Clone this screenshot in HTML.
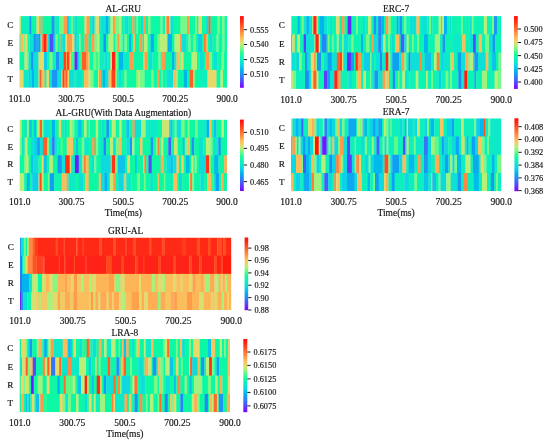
<!DOCTYPE html>
<html><head><meta charset="utf-8"><title>Heatmaps</title>
<style>
html,body{margin:0;padding:0;background:#fff}
svg{display:block}
text{font-family:"Liberation Serif","DejaVu Serif",serif;fill:#111;stroke:#111;stroke-width:0.15px}
.t{font-size:9.4px}
.k{font-size:9.5px}
.r{font-size:9.2px}
.c{font-size:8.3px}
</style></head><body>
<svg width="550" height="445" viewBox="0 0 550 445">
<defs><linearGradient id="rb" x1="0" y1="1" x2="0" y2="0">
<stop offset="0%" stop-color="#8000ff"/>
<stop offset="5%" stop-color="#6828ff"/>
<stop offset="10%" stop-color="#4e4ffc"/>
<stop offset="15%" stop-color="#3474f8"/>
<stop offset="20%" stop-color="#1a96f3"/>
<stop offset="25%" stop-color="#04b4ee"/>
<stop offset="30%" stop-color="#0acdeb"/>
<stop offset="35%" stop-color="#0ae1d7"/>
<stop offset="40%" stop-color="#0af0be"/>
<stop offset="45%" stop-color="#0ff8a5"/>
<stop offset="50%" stop-color="#32fc8c"/>
<stop offset="55%" stop-color="#78f884"/>
<stop offset="60%" stop-color="#b9ee78"/>
<stop offset="65%" stop-color="#e8d769"/>
<stop offset="70%" stop-color="#fdbc5c"/>
<stop offset="75%" stop-color="#ff9b4b"/>
<stop offset="80%" stop-color="#ff7d37"/>
<stop offset="85%" stop-color="#ff5f28"/>
<stop offset="90%" stop-color="#ff411c"/>
<stop offset="95%" stop-color="#ff2312"/>
<stop offset="100%" stop-color="#ff0a0a"/>
</linearGradient>
<filter id="bl" x="-2%" y="-2%" width="104%" height="104%"><feGaussianBlur stdDeviation="0.45 0.25"/></filter>
<clipPath id="cP1"><rect x="19.5" y="16.1" width="207.60" height="71.69999999999999"/></clipPath>
<clipPath id="cP2"><rect x="291" y="16.1" width="210.20" height="72.80000000000001"/></clipPath>
<clipPath id="cP3"><rect x="19.7" y="119.6" width="207.30" height="71.4"/></clipPath>
<clipPath id="cP4"><rect x="291" y="118.3" width="210.20" height="72.89999999999999"/></clipPath>
<clipPath id="cP5"><rect x="20" y="237.5" width="211.20" height="72.69999999999999"/></clipPath>
<clipPath id="cP6"><rect x="19.7" y="339" width="210.30" height="73.19999999999999"/></clipPath>
</defs>
<rect width="550" height="445" fill="#fff"/>
<g id="P1">
<text class="t" x="123.3" y="12.4" text-anchor="middle">AL-GRU</text>
<g clip-path="url(#cP1)"><g filter="url(#bl)">
<rect x="16.50" y="16.10" width="4.80" height="18.92" fill="#b9ee78"/>
<rect x="21.00" y="16.10" width="8.55" height="18.92" fill="#0af0be"/>
<rect x="29.25" y="16.10" width="2.55" height="18.92" fill="#1a96f3"/>
<rect x="31.50" y="16.10" width="5.30" height="18.92" fill="#0ff8a5"/>
<rect x="36.50" y="16.10" width="3.05" height="18.92" fill="#e8d769"/>
<rect x="39.25" y="16.10" width="1.55" height="18.92" fill="#0ff8a5"/>
<rect x="40.50" y="16.10" width="2.30" height="18.92" fill="#ff9b4b"/>
<rect x="42.50" y="16.10" width="9.30" height="18.92" fill="#0ff8a5"/>
<rect x="51.50" y="16.10" width="3.30" height="18.92" fill="#1a96f3"/>
<rect x="54.50" y="16.10" width="4.80" height="18.92" fill="#0af0be"/>
<rect x="59.00" y="16.10" width="4.80" height="18.92" fill="#78f884"/>
<rect x="63.50" y="16.10" width="3.80" height="18.92" fill="#ff9b4b"/>
<rect x="67.00" y="16.10" width="2.80" height="18.92" fill="#0acdeb"/>
<rect x="69.50" y="16.10" width="2.30" height="18.92" fill="#0ff8a5"/>
<rect x="71.50" y="16.10" width="1.30" height="18.92" fill="#b9ee78"/>
<rect x="72.50" y="16.10" width="2.30" height="18.92" fill="#0ff8a5"/>
<rect x="74.50" y="16.10" width="2.80" height="18.92" fill="#0ae1d7"/>
<rect x="77.00" y="16.10" width="7.80" height="18.92" fill="#0ff8a5"/>
<rect x="84.50" y="16.10" width="2.30" height="18.92" fill="#e8d769"/>
<rect x="86.50" y="16.10" width="3.80" height="18.92" fill="#ff9b4b"/>
<rect x="90.00" y="16.10" width="2.55" height="18.92" fill="#0af0be"/>
<rect x="92.25" y="16.10" width="2.55" height="18.92" fill="#0acdeb"/>
<rect x="94.50" y="16.10" width="2.05" height="18.92" fill="#78f884"/>
<rect x="96.25" y="16.10" width="3.05" height="18.92" fill="#e8d769"/>
<rect x="99.00" y="16.10" width="1.80" height="18.92" fill="#0ff8a5"/>
<rect x="100.50" y="16.10" width="5.80" height="18.92" fill="#0ae1d7"/>
<rect x="106.00" y="16.10" width="2.80" height="18.92" fill="#04b4ee"/>
<rect x="108.50" y="16.10" width="2.30" height="18.92" fill="#0ff8a5"/>
<rect x="110.50" y="16.10" width="2.80" height="18.92" fill="#b9ee78"/>
<rect x="113.00" y="16.10" width="2.80" height="18.92" fill="#ff9b4b"/>
<rect x="115.50" y="16.10" width="3.80" height="18.92" fill="#78f884"/>
<rect x="119.00" y="16.10" width="2.80" height="18.92" fill="#b9ee78"/>
<rect x="121.50" y="16.10" width="3.30" height="18.92" fill="#0ff8a5"/>
<rect x="124.50" y="16.10" width="4.30" height="18.92" fill="#0ae1d7"/>
<rect x="128.50" y="16.10" width="4.05" height="18.92" fill="#0ff8a5"/>
<rect x="132.25" y="16.10" width="2.55" height="18.92" fill="#ff9b4b"/>
<rect x="134.50" y="16.10" width="2.30" height="18.92" fill="#0ff8a5"/>
<rect x="136.50" y="16.10" width="1.80" height="18.92" fill="#78f884"/>
<rect x="138.00" y="16.10" width="3.30" height="18.92" fill="#0ff8a5"/>
<rect x="141.00" y="16.10" width="2.80" height="18.92" fill="#0ae1d7"/>
<rect x="143.50" y="16.10" width="2.80" height="18.92" fill="#ff9b4b"/>
<rect x="146.00" y="16.10" width="2.30" height="18.92" fill="#0ff8a5"/>
<rect x="148.00" y="16.10" width="2.80" height="18.92" fill="#78f884"/>
<rect x="150.50" y="16.10" width="10.30" height="18.92" fill="#0ff8a5"/>
<rect x="160.50" y="16.10" width="2.30" height="18.92" fill="#78f884"/>
<rect x="162.50" y="16.10" width="2.80" height="18.92" fill="#0ff8a5"/>
<rect x="165.00" y="16.10" width="1.80" height="18.92" fill="#e8d769"/>
<rect x="166.50" y="16.10" width="2.80" height="18.92" fill="#ff7d37"/>
<rect x="169.00" y="16.10" width="1.80" height="18.92" fill="#78f884"/>
<rect x="170.50" y="16.10" width="2.80" height="18.92" fill="#0ae1d7"/>
<rect x="173.00" y="16.10" width="7.80" height="18.92" fill="#0ff8a5"/>
<rect x="180.50" y="16.10" width="6.80" height="18.92" fill="#78f884"/>
<rect x="187.00" y="16.10" width="2.80" height="18.92" fill="#ff9b4b"/>
<rect x="189.50" y="16.10" width="5.80" height="18.92" fill="#0ff8a5"/>
<rect x="195.00" y="16.10" width="2.30" height="18.92" fill="#78f884"/>
<rect x="197.00" y="16.10" width="1.80" height="18.92" fill="#0ff8a5"/>
<rect x="198.50" y="16.10" width="3.80" height="18.92" fill="#e8d769"/>
<rect x="202.00" y="16.10" width="3.80" height="18.92" fill="#0ff8a5"/>
<rect x="205.50" y="16.10" width="3.30" height="18.92" fill="#0ae1d7"/>
<rect x="208.50" y="16.10" width="2.30" height="18.92" fill="#ff5f28"/>
<rect x="210.50" y="16.10" width="7.30" height="18.92" fill="#0ff8a5"/>
<rect x="217.50" y="16.10" width="2.30" height="18.92" fill="#78f884"/>
<rect x="219.50" y="16.10" width="2.80" height="18.92" fill="#0ff8a5"/>
<rect x="222.00" y="16.10" width="2.80" height="18.92" fill="#78f884"/>
<rect x="224.50" y="16.10" width="5.90" height="18.92" fill="#0ff8a5"/>
<rect x="16.50" y="34.02" width="4.30" height="18.92" fill="#0ff8a5"/>
<rect x="20.50" y="34.02" width="3.30" height="18.92" fill="#fdbc5c"/>
<rect x="23.50" y="34.02" width="1.80" height="18.92" fill="#78f884"/>
<rect x="25.00" y="34.02" width="2.80" height="18.92" fill="#e8d769"/>
<rect x="27.50" y="34.02" width="2.30" height="18.92" fill="#0ff8a5"/>
<rect x="29.50" y="34.02" width="4.30" height="18.92" fill="#0ae1d7"/>
<rect x="33.50" y="34.02" width="3.30" height="18.92" fill="#1a96f3"/>
<rect x="36.50" y="34.02" width="2.30" height="18.92" fill="#04b4ee"/>
<rect x="38.50" y="34.02" width="2.30" height="18.92" fill="#1a96f3"/>
<rect x="40.50" y="34.02" width="1.80" height="18.92" fill="#78f884"/>
<rect x="42.00" y="34.02" width="1.80" height="18.92" fill="#ff7d37"/>
<rect x="43.50" y="34.02" width="3.30" height="18.92" fill="#ff2312"/>
<rect x="46.50" y="34.02" width="1.30" height="18.92" fill="#ff9b4b"/>
<rect x="47.50" y="34.02" width="2.30" height="18.92" fill="#0ae1d7"/>
<rect x="49.50" y="34.02" width="4.30" height="18.92" fill="#4e4ffc"/>
<rect x="53.50" y="34.02" width="2.30" height="18.92" fill="#0acdeb"/>
<rect x="55.50" y="34.02" width="2.30" height="18.92" fill="#78f884"/>
<rect x="57.50" y="34.02" width="1.80" height="18.92" fill="#0ff8a5"/>
<rect x="59.00" y="34.02" width="1.80" height="18.92" fill="#ff9b4b"/>
<rect x="60.50" y="34.02" width="2.30" height="18.92" fill="#0af0be"/>
<rect x="62.50" y="34.02" width="3.30" height="18.92" fill="#0ae1d7"/>
<rect x="65.50" y="34.02" width="1.80" height="18.92" fill="#e8d769"/>
<rect x="67.00" y="34.02" width="5.30" height="18.92" fill="#ff9b4b"/>
<rect x="72.00" y="34.02" width="2.80" height="18.92" fill="#e8d769"/>
<rect x="74.50" y="34.02" width="2.30" height="18.92" fill="#0acdeb"/>
<rect x="76.50" y="34.02" width="2.80" height="18.92" fill="#0af0be"/>
<rect x="79.00" y="34.02" width="1.80" height="18.92" fill="#b9ee78"/>
<rect x="80.50" y="34.02" width="4.30" height="18.92" fill="#0ff8a5"/>
<rect x="84.50" y="34.02" width="4.30" height="18.92" fill="#ff9b4b"/>
<rect x="88.50" y="34.02" width="3.30" height="18.92" fill="#0ff8a5"/>
<rect x="91.50" y="34.02" width="3.30" height="18.92" fill="#ff9b4b"/>
<rect x="94.50" y="34.02" width="2.80" height="18.92" fill="#78f884"/>
<rect x="97.00" y="34.02" width="2.80" height="18.92" fill="#b9ee78"/>
<rect x="99.50" y="34.02" width="4.05" height="18.92" fill="#0af0be"/>
<rect x="103.25" y="34.02" width="3.05" height="18.92" fill="#1a96f3"/>
<rect x="106.00" y="34.02" width="2.80" height="18.92" fill="#0ff8a5"/>
<rect x="108.50" y="34.02" width="5.30" height="18.92" fill="#b9ee78"/>
<rect x="113.50" y="34.02" width="2.30" height="18.92" fill="#0ff8a5"/>
<rect x="115.50" y="34.02" width="2.05" height="18.92" fill="#78f884"/>
<rect x="117.25" y="34.02" width="2.55" height="18.92" fill="#ff9b4b"/>
<rect x="119.50" y="34.02" width="3.30" height="18.92" fill="#78f884"/>
<rect x="122.50" y="34.02" width="2.30" height="18.92" fill="#0af0be"/>
<rect x="124.50" y="34.02" width="2.80" height="18.92" fill="#78f884"/>
<rect x="127.00" y="34.02" width="2.30" height="18.92" fill="#0ff8a5"/>
<rect x="129.00" y="34.02" width="2.80" height="18.92" fill="#04b4ee"/>
<rect x="131.50" y="34.02" width="1.80" height="18.92" fill="#0ff8a5"/>
<rect x="133.00" y="34.02" width="2.30" height="18.92" fill="#fdbc5c"/>
<rect x="135.00" y="34.02" width="4.80" height="18.92" fill="#0ff8a5"/>
<rect x="139.50" y="34.02" width="3.30" height="18.92" fill="#ff9b4b"/>
<rect x="142.50" y="34.02" width="1.80" height="18.92" fill="#0ff8a5"/>
<rect x="144.00" y="34.02" width="3.80" height="18.92" fill="#b9ee78"/>
<rect x="147.50" y="34.02" width="3.30" height="18.92" fill="#0ff8a5"/>
<rect x="150.50" y="34.02" width="3.80" height="18.92" fill="#04b4ee"/>
<rect x="154.00" y="34.02" width="3.80" height="18.92" fill="#0ff8a5"/>
<rect x="157.50" y="34.02" width="2.80" height="18.92" fill="#78f884"/>
<rect x="160.00" y="34.02" width="7.30" height="18.92" fill="#b9ee78"/>
<rect x="167.00" y="34.02" width="1.30" height="18.92" fill="#0ff8a5"/>
<rect x="168.00" y="34.02" width="4.30" height="18.92" fill="#04b4ee"/>
<rect x="172.00" y="34.02" width="2.80" height="18.92" fill="#0ff8a5"/>
<rect x="174.50" y="34.02" width="5.80" height="18.92" fill="#b9ee78"/>
<rect x="180.00" y="34.02" width="1.80" height="18.92" fill="#ff9b4b"/>
<rect x="181.50" y="34.02" width="5.30" height="18.92" fill="#0ae1d7"/>
<rect x="186.50" y="34.02" width="2.30" height="18.92" fill="#0ff8a5"/>
<rect x="188.50" y="34.02" width="2.30" height="18.92" fill="#78f884"/>
<rect x="190.50" y="34.02" width="3.30" height="18.92" fill="#0ff8a5"/>
<rect x="193.50" y="34.02" width="2.30" height="18.92" fill="#78f884"/>
<rect x="195.50" y="34.02" width="2.80" height="18.92" fill="#0ff8a5"/>
<rect x="198.00" y="34.02" width="4.30" height="18.92" fill="#0acdeb"/>
<rect x="202.00" y="34.02" width="1.80" height="18.92" fill="#0ff8a5"/>
<rect x="203.50" y="34.02" width="3.30" height="18.92" fill="#ff7d37"/>
<rect x="206.50" y="34.02" width="1.30" height="18.92" fill="#e8d769"/>
<rect x="207.50" y="34.02" width="2.80" height="18.92" fill="#0ff8a5"/>
<rect x="210.00" y="34.02" width="2.80" height="18.92" fill="#0ae1d7"/>
<rect x="212.50" y="34.02" width="4.30" height="18.92" fill="#0ff8a5"/>
<rect x="216.50" y="34.02" width="2.30" height="18.92" fill="#78f884"/>
<rect x="218.50" y="34.02" width="4.30" height="18.92" fill="#0ff8a5"/>
<rect x="222.50" y="34.02" width="2.30" height="18.92" fill="#78f884"/>
<rect x="224.50" y="34.02" width="5.90" height="18.92" fill="#0ff8a5"/>
<rect x="16.50" y="51.95" width="8.30" height="18.92" fill="#0ff8a5"/>
<rect x="24.50" y="51.95" width="2.30" height="18.92" fill="#e8d769"/>
<rect x="26.50" y="51.95" width="2.30" height="18.92" fill="#78f884"/>
<rect x="28.50" y="51.95" width="2.80" height="18.92" fill="#0ae1d7"/>
<rect x="31.00" y="51.95" width="2.80" height="18.92" fill="#1a96f3"/>
<rect x="33.50" y="51.95" width="5.30" height="18.92" fill="#0ae1d7"/>
<rect x="38.50" y="51.95" width="5.80" height="18.92" fill="#e8d769"/>
<rect x="44.00" y="51.95" width="3.80" height="18.92" fill="#0acdeb"/>
<rect x="47.50" y="51.95" width="2.30" height="18.92" fill="#0ff8a5"/>
<rect x="49.50" y="51.95" width="3.30" height="18.92" fill="#78f884"/>
<rect x="52.50" y="51.95" width="3.80" height="18.92" fill="#0af0be"/>
<rect x="56.00" y="51.95" width="3.30" height="18.92" fill="#1a96f3"/>
<rect x="59.00" y="51.95" width="4.80" height="18.92" fill="#0ae1d7"/>
<rect x="63.50" y="51.95" width="2.80" height="18.92" fill="#ff411c"/>
<rect x="66.00" y="51.95" width="1.30" height="18.92" fill="#ff9b4b"/>
<rect x="67.00" y="51.95" width="2.80" height="18.92" fill="#ff411c"/>
<rect x="69.50" y="51.95" width="1.80" height="18.92" fill="#e8d769"/>
<rect x="71.00" y="51.95" width="3.80" height="18.92" fill="#32fc8c"/>
<rect x="74.50" y="51.95" width="3.30" height="18.92" fill="#6828ff"/>
<rect x="77.50" y="51.95" width="2.30" height="18.92" fill="#0acdeb"/>
<rect x="79.50" y="51.95" width="2.80" height="18.92" fill="#32fc8c"/>
<rect x="82.00" y="51.95" width="4.30" height="18.92" fill="#ff5f28"/>
<rect x="86.00" y="51.95" width="2.80" height="18.92" fill="#ff9b4b"/>
<rect x="88.50" y="51.95" width="1.30" height="18.92" fill="#e8d769"/>
<rect x="89.50" y="51.95" width="4.30" height="18.92" fill="#0ff8a5"/>
<rect x="93.50" y="51.95" width="2.30" height="18.92" fill="#78f884"/>
<rect x="95.50" y="51.95" width="2.80" height="18.92" fill="#32fc8c"/>
<rect x="98.00" y="51.95" width="1.80" height="18.92" fill="#78f884"/>
<rect x="99.50" y="51.95" width="5.30" height="18.92" fill="#0af0be"/>
<rect x="104.50" y="51.95" width="3.30" height="18.92" fill="#0ae1d7"/>
<rect x="107.50" y="51.95" width="3.30" height="18.92" fill="#0af0be"/>
<rect x="110.50" y="51.95" width="1.80" height="18.92" fill="#e8d769"/>
<rect x="112.00" y="51.95" width="3.80" height="18.92" fill="#ff2312"/>
<rect x="115.50" y="51.95" width="2.30" height="18.92" fill="#78f884"/>
<rect x="117.50" y="51.95" width="1.80" height="18.92" fill="#0ff8a5"/>
<rect x="119.00" y="51.95" width="4.30" height="18.92" fill="#04b4ee"/>
<rect x="123.00" y="51.95" width="6.30" height="18.92" fill="#0aeac8"/>
<rect x="129.00" y="51.95" width="4.80" height="18.92" fill="#ff9b4b"/>
<rect x="133.50" y="51.95" width="10.30" height="18.92" fill="#0ff8a5"/>
<rect x="143.50" y="51.95" width="1.30" height="18.92" fill="#e8d769"/>
<rect x="144.50" y="51.95" width="3.30" height="18.92" fill="#ff9b4b"/>
<rect x="147.50" y="51.95" width="1.80" height="18.92" fill="#0ff8a5"/>
<rect x="149.00" y="51.95" width="3.80" height="18.92" fill="#0ae1d7"/>
<rect x="152.50" y="51.95" width="6.30" height="18.92" fill="#0ff8a5"/>
<rect x="158.50" y="51.95" width="2.30" height="18.92" fill="#78f884"/>
<rect x="160.50" y="51.95" width="1.30" height="18.92" fill="#0ff8a5"/>
<rect x="161.50" y="51.95" width="3.80" height="18.92" fill="#ff9b4b"/>
<rect x="165.00" y="51.95" width="7.30" height="18.92" fill="#0ff8a5"/>
<rect x="172.00" y="51.95" width="2.80" height="18.92" fill="#04b4ee"/>
<rect x="174.50" y="51.95" width="2.30" height="18.92" fill="#0ff8a5"/>
<rect x="176.50" y="51.95" width="2.80" height="18.92" fill="#fdbc5c"/>
<rect x="179.00" y="51.95" width="2.80" height="18.92" fill="#78f884"/>
<rect x="181.50" y="51.95" width="2.30" height="18.92" fill="#e8d769"/>
<rect x="183.50" y="51.95" width="8.30" height="18.92" fill="#0ff8a5"/>
<rect x="191.50" y="51.95" width="5.80" height="18.92" fill="#b9ee78"/>
<rect x="197.00" y="51.95" width="2.80" height="18.92" fill="#0ff8a5"/>
<rect x="199.50" y="51.95" width="4.80" height="18.92" fill="#0ae1d7"/>
<rect x="204.00" y="51.95" width="1.80" height="18.92" fill="#0ff8a5"/>
<rect x="205.50" y="51.95" width="4.30" height="18.92" fill="#ff9b4b"/>
<rect x="209.50" y="51.95" width="2.80" height="18.92" fill="#78f884"/>
<rect x="212.00" y="51.95" width="2.30" height="18.92" fill="#0ff8a5"/>
<rect x="214.00" y="51.95" width="3.80" height="18.92" fill="#0ae1d7"/>
<rect x="217.50" y="51.95" width="4.30" height="18.92" fill="#0ff8a5"/>
<rect x="221.50" y="51.95" width="2.80" height="18.92" fill="#78f884"/>
<rect x="224.00" y="51.95" width="6.40" height="18.92" fill="#0ff8a5"/>
<rect x="16.50" y="69.88" width="7.30" height="17.92" fill="#e8d769"/>
<rect x="23.50" y="69.88" width="5.30" height="17.92" fill="#0aeac8"/>
<rect x="28.50" y="69.88" width="1.80" height="17.92" fill="#0acdeb"/>
<rect x="30.00" y="69.88" width="2.30" height="17.92" fill="#0ae1d7"/>
<rect x="32.00" y="69.88" width="2.30" height="17.92" fill="#04b4ee"/>
<rect x="34.00" y="69.88" width="4.80" height="17.92" fill="#0ae1d7"/>
<rect x="38.50" y="69.88" width="1.30" height="17.92" fill="#e8d769"/>
<rect x="39.50" y="69.88" width="2.30" height="17.92" fill="#ff5f28"/>
<rect x="41.50" y="69.88" width="3.30" height="17.92" fill="#fdbc5c"/>
<rect x="44.50" y="69.88" width="2.30" height="17.92" fill="#0ff8a5"/>
<rect x="46.50" y="69.88" width="2.80" height="17.92" fill="#e8d769"/>
<rect x="49.00" y="69.88" width="3.30" height="17.92" fill="#0ae1d7"/>
<rect x="52.00" y="69.88" width="5.80" height="17.92" fill="#1a96f3"/>
<rect x="57.50" y="69.88" width="4.30" height="17.92" fill="#0ae1d7"/>
<rect x="61.50" y="69.88" width="1.30" height="17.92" fill="#e8d769"/>
<rect x="62.50" y="69.88" width="2.30" height="17.92" fill="#ff411c"/>
<rect x="64.50" y="69.88" width="1.30" height="17.92" fill="#ff9b4b"/>
<rect x="65.50" y="69.88" width="2.30" height="17.92" fill="#ff5f28"/>
<rect x="67.50" y="69.88" width="1.80" height="17.92" fill="#e8d769"/>
<rect x="69.00" y="69.88" width="5.80" height="17.92" fill="#0ae1d7"/>
<rect x="74.50" y="69.88" width="2.80" height="17.92" fill="#0af0be"/>
<rect x="77.00" y="69.88" width="5.30" height="17.92" fill="#0ae1d7"/>
<rect x="82.00" y="69.88" width="2.30" height="17.92" fill="#0ff8a5"/>
<rect x="84.00" y="69.88" width="4.80" height="17.92" fill="#fdbc5c"/>
<rect x="88.50" y="69.88" width="2.30" height="17.92" fill="#b9ee78"/>
<rect x="90.50" y="69.88" width="3.30" height="17.92" fill="#78f884"/>
<rect x="93.50" y="69.88" width="4.80" height="17.92" fill="#0ff8a5"/>
<rect x="98.00" y="69.88" width="1.30" height="17.92" fill="#e8d769"/>
<rect x="99.00" y="69.88" width="2.30" height="17.92" fill="#ff9b4b"/>
<rect x="101.00" y="69.88" width="2.30" height="17.92" fill="#0ae1d7"/>
<rect x="103.00" y="69.88" width="2.80" height="17.92" fill="#04b4ee"/>
<rect x="105.50" y="69.88" width="3.30" height="17.92" fill="#0ae1d7"/>
<rect x="108.50" y="69.88" width="3.30" height="17.92" fill="#fdbc5c"/>
<rect x="111.50" y="69.88" width="4.30" height="17.92" fill="#ff411c"/>
<rect x="115.50" y="69.88" width="1.80" height="17.92" fill="#78f884"/>
<rect x="117.00" y="69.88" width="1.80" height="17.92" fill="#0ff8a5"/>
<rect x="118.50" y="69.88" width="2.80" height="17.92" fill="#0ae1d7"/>
<rect x="121.00" y="69.88" width="3.80" height="17.92" fill="#0ff8a5"/>
<rect x="124.50" y="69.88" width="2.30" height="17.92" fill="#78f884"/>
<rect x="126.50" y="69.88" width="9.80" height="17.92" fill="#0ff8a5"/>
<rect x="136.00" y="69.88" width="2.30" height="17.92" fill="#78f884"/>
<rect x="138.00" y="69.88" width="2.30" height="17.92" fill="#b9ee78"/>
<rect x="140.00" y="69.88" width="4.80" height="17.92" fill="#78f884"/>
<rect x="144.50" y="69.88" width="6.80" height="17.92" fill="#0ff8a5"/>
<rect x="151.00" y="69.88" width="2.80" height="17.92" fill="#78f884"/>
<rect x="153.50" y="69.88" width="4.30" height="17.92" fill="#0ff8a5"/>
<rect x="157.50" y="69.88" width="1.80" height="17.92" fill="#ff9b4b"/>
<rect x="159.00" y="69.88" width="2.80" height="17.92" fill="#0ff8a5"/>
<rect x="161.50" y="69.88" width="1.30" height="17.92" fill="#78f884"/>
<rect x="162.50" y="69.88" width="4.30" height="17.92" fill="#0ff8a5"/>
<rect x="166.50" y="69.88" width="6.80" height="17.92" fill="#0ae1d7"/>
<rect x="173.00" y="69.88" width="3.80" height="17.92" fill="#fdbc5c"/>
<rect x="176.50" y="69.88" width="1.80" height="17.92" fill="#78f884"/>
<rect x="178.00" y="69.88" width="5.80" height="17.92" fill="#0ff8a5"/>
<rect x="183.50" y="69.88" width="4.30" height="17.92" fill="#04b4ee"/>
<rect x="187.50" y="69.88" width="2.30" height="17.92" fill="#0ff8a5"/>
<rect x="189.50" y="69.88" width="3.80" height="17.92" fill="#ff5f28"/>
<rect x="193.00" y="69.88" width="2.30" height="17.92" fill="#78f884"/>
<rect x="195.00" y="69.88" width="5.30" height="17.92" fill="#0ff8a5"/>
<rect x="200.00" y="69.88" width="7.80" height="17.92" fill="#0af0be"/>
<rect x="207.50" y="69.88" width="9.30" height="17.92" fill="#e8d769"/>
<rect x="216.50" y="69.88" width="4.30" height="17.92" fill="#0ff8a5"/>
<rect x="220.50" y="69.88" width="2.80" height="17.92" fill="#b9ee78"/>
<rect x="223.00" y="69.88" width="7.40" height="17.92" fill="#0ff8a5"/>
</g></g>
<text class="r" x="10.2" y="28.3" text-anchor="middle">C</text>
<text class="r" x="10.2" y="46.2" text-anchor="middle">E</text>
<text class="r" x="10.2" y="64.1" text-anchor="middle">R</text>
<text class="r" x="10.2" y="82.0" text-anchor="middle">T</text>
<text class="k" x="19.5" y="101.5" text-anchor="middle">101.0</text>
<text class="k" x="71.4" y="101.5" text-anchor="middle">300.75</text>
<text class="k" x="123.3" y="101.5" text-anchor="middle">500.5</text>
<text class="k" x="175.2" y="101.5" text-anchor="middle">700.25</text>
<text class="k" x="227.1" y="101.5" text-anchor="middle">900.0</text>
<rect x="240" y="16.1" width="3.80" height="71.69999999999999" fill="url(#rb)"/>
<line x1="243.8" x2="247.1" y1="29.7" y2="29.7" stroke="#1a1a1a" stroke-width="1"/>
<text class="c" x="250.0" y="32.6">0.555</text>
<line x1="243.8" x2="247.1" y1="44.5" y2="44.5" stroke="#1a1a1a" stroke-width="1"/>
<text class="c" x="250.0" y="47.4">0.540</text>
<line x1="243.8" x2="247.1" y1="59.6" y2="59.6" stroke="#1a1a1a" stroke-width="1"/>
<text class="c" x="250.0" y="62.5">0.525</text>
<line x1="243.8" x2="247.1" y1="74.4" y2="74.4" stroke="#1a1a1a" stroke-width="1"/>
<text class="c" x="250.0" y="77.3">0.510</text>
</g>
<g id="P2">
<text class="t" x="396.1" y="12.4" text-anchor="middle">ERC-7</text>
<g clip-path="url(#cP2)"><g filter="url(#bl)">
<rect x="288.00" y="16.10" width="4.30" height="19.20" fill="#78f884"/>
<rect x="292.00" y="16.10" width="5.70" height="19.20" fill="#0cf3b4"/>
<rect x="297.40" y="16.10" width="2.60" height="19.20" fill="#04b4ee"/>
<rect x="299.70" y="16.10" width="2.40" height="19.20" fill="#0cf3b4"/>
<rect x="301.80" y="16.10" width="2.20" height="19.20" fill="#78f884"/>
<rect x="303.70" y="16.10" width="2.90" height="19.20" fill="#0ae7cd"/>
<rect x="306.30" y="16.10" width="2.80" height="19.20" fill="#04b4ee"/>
<rect x="308.80" y="16.10" width="3.90" height="19.20" fill="#0ae1d7"/>
<rect x="312.40" y="16.10" width="1.20" height="19.20" fill="#e8d769"/>
<rect x="313.30" y="16.10" width="3.50" height="19.20" fill="#ff2312"/>
<rect x="316.50" y="16.10" width="1.80" height="19.20" fill="#fdbc5c"/>
<rect x="318.00" y="16.10" width="1.60" height="19.20" fill="#0cf3b4"/>
<rect x="319.30" y="16.10" width="5.00" height="19.20" fill="#04b4ee"/>
<rect x="324.00" y="16.10" width="3.60" height="19.20" fill="#0ae1d7"/>
<rect x="327.30" y="16.10" width="2.20" height="19.20" fill="#0cf3b4"/>
<rect x="329.20" y="16.10" width="2.80" height="19.20" fill="#0ae1d7"/>
<rect x="331.70" y="16.10" width="4.80" height="19.20" fill="#0cf3b4"/>
<rect x="336.20" y="16.10" width="3.50" height="19.20" fill="#e8d769"/>
<rect x="339.40" y="16.10" width="2.90" height="19.20" fill="#0cf3b4"/>
<rect x="342.00" y="16.10" width="2.80" height="19.20" fill="#ff9b4b"/>
<rect x="344.50" y="16.10" width="3.40" height="19.20" fill="#0ff8a5"/>
<rect x="347.60" y="16.10" width="4.20" height="19.20" fill="#6828ff"/>
<rect x="351.50" y="16.10" width="4.80" height="19.20" fill="#0cf3b4"/>
<rect x="356.00" y="16.10" width="2.30" height="19.20" fill="#78f884"/>
<rect x="358.00" y="16.10" width="5.30" height="19.20" fill="#0cf3b4"/>
<rect x="363.00" y="16.10" width="2.80" height="19.20" fill="#0ae1d7"/>
<rect x="365.50" y="16.10" width="2.80" height="19.20" fill="#0cf3b4"/>
<rect x="368.00" y="16.10" width="3.50" height="19.20" fill="#b9ee78"/>
<rect x="371.20" y="16.10" width="2.80" height="19.20" fill="#0cf3b4"/>
<rect x="373.70" y="16.10" width="2.60" height="19.20" fill="#1a96f3"/>
<rect x="376.00" y="16.10" width="2.50" height="19.20" fill="#0ae1d7"/>
<rect x="378.20" y="16.10" width="3.50" height="19.20" fill="#2488f5"/>
<rect x="381.40" y="16.10" width="2.90" height="19.20" fill="#04b4ee"/>
<rect x="384.00" y="16.10" width="2.10" height="19.20" fill="#0cf3b4"/>
<rect x="385.80" y="16.10" width="2.90" height="19.20" fill="#ff9b4b"/>
<rect x="388.40" y="16.10" width="2.90" height="19.20" fill="#78f884"/>
<rect x="391.00" y="16.10" width="5.90" height="19.20" fill="#0cf3b4"/>
<rect x="396.60" y="16.10" width="2.20" height="19.20" fill="#04b4ee"/>
<rect x="398.50" y="16.10" width="1.60" height="19.20" fill="#0ae1d7"/>
<rect x="399.80" y="16.10" width="2.50" height="19.20" fill="#1a96f3"/>
<rect x="402.00" y="16.10" width="2.60" height="19.20" fill="#0cf3b4"/>
<rect x="404.30" y="16.10" width="2.20" height="19.20" fill="#78f884"/>
<rect x="406.20" y="16.10" width="3.50" height="19.20" fill="#0cf3b4"/>
<rect x="409.40" y="16.10" width="7.30" height="19.20" fill="#0ae1d7"/>
<rect x="416.40" y="16.10" width="3.20" height="19.20" fill="#fdbc5c"/>
<rect x="419.30" y="16.10" width="3.00" height="19.20" fill="#0cf3b4"/>
<rect x="422.00" y="16.10" width="5.50" height="19.20" fill="#0ae1d7"/>
<rect x="427.20" y="16.10" width="2.10" height="19.20" fill="#0cf3b4"/>
<rect x="429.00" y="16.10" width="2.30" height="19.20" fill="#78f884"/>
<rect x="431.00" y="16.10" width="1.60" height="19.20" fill="#0ae1d7"/>
<rect x="432.30" y="16.10" width="6.60" height="19.20" fill="#0cf3b4"/>
<rect x="438.60" y="16.10" width="2.70" height="19.20" fill="#b9ee78"/>
<rect x="441.00" y="16.10" width="1.50" height="19.20" fill="#0cf3b4"/>
<rect x="442.20" y="16.10" width="2.10" height="19.20" fill="#b9ee78"/>
<rect x="444.00" y="16.10" width="3.30" height="19.20" fill="#04b4ee"/>
<rect x="447.00" y="16.10" width="2.80" height="19.20" fill="#0cf3b4"/>
<rect x="449.50" y="16.10" width="2.20" height="19.20" fill="#0ae1d7"/>
<rect x="451.40" y="16.10" width="9.90" height="19.20" fill="#0cf3b4"/>
<rect x="461.00" y="16.10" width="2.10" height="19.20" fill="#78f884"/>
<rect x="462.80" y="16.10" width="6.70" height="19.20" fill="#0cf3b4"/>
<rect x="469.20" y="16.10" width="2.80" height="19.20" fill="#0ae1d7"/>
<rect x="471.70" y="16.10" width="2.20" height="19.20" fill="#78f884"/>
<rect x="473.60" y="16.10" width="10.50" height="19.20" fill="#0cf3b4"/>
<rect x="483.80" y="16.10" width="3.50" height="19.20" fill="#b9ee78"/>
<rect x="487.00" y="16.10" width="5.30" height="19.20" fill="#0cf3b4"/>
<rect x="492.00" y="16.10" width="2.30" height="19.20" fill="#78f884"/>
<rect x="494.00" y="16.10" width="3.50" height="19.20" fill="#1a96f3"/>
<rect x="497.20" y="16.10" width="7.30" height="19.20" fill="#0cf3b4"/>
<rect x="288.00" y="34.30" width="4.60" height="19.20" fill="#0cf3b4"/>
<rect x="292.30" y="34.30" width="2.80" height="19.20" fill="#e8d769"/>
<rect x="294.80" y="34.30" width="2.90" height="19.20" fill="#0cf3b4"/>
<rect x="297.40" y="34.30" width="2.90" height="19.20" fill="#b9ee78"/>
<rect x="300.00" y="34.30" width="4.00" height="19.20" fill="#0cf3b4"/>
<rect x="303.70" y="34.30" width="2.60" height="19.20" fill="#583ffd"/>
<rect x="306.00" y="34.30" width="4.30" height="19.20" fill="#0ae1d7"/>
<rect x="310.00" y="34.30" width="4.80" height="19.20" fill="#0ae7cd"/>
<rect x="314.50" y="34.30" width="1.20" height="19.20" fill="#e8d769"/>
<rect x="315.40" y="34.30" width="3.60" height="19.20" fill="#ff2312"/>
<rect x="318.70" y="34.30" width="1.60" height="19.20" fill="#b9ee78"/>
<rect x="320.00" y="34.30" width="1.80" height="19.20" fill="#0ae1d7"/>
<rect x="321.50" y="34.30" width="5.40" height="19.20" fill="#2488f5"/>
<rect x="326.60" y="34.30" width="1.70" height="19.20" fill="#0cf3b4"/>
<rect x="328.00" y="34.30" width="1.50" height="19.20" fill="#78f884"/>
<rect x="329.20" y="34.30" width="3.50" height="19.20" fill="#0cf3b4"/>
<rect x="332.40" y="34.30" width="1.50" height="19.20" fill="#78f884"/>
<rect x="333.60" y="34.30" width="3.50" height="19.20" fill="#0cf3b4"/>
<rect x="336.80" y="34.30" width="2.20" height="19.20" fill="#b9ee78"/>
<rect x="338.70" y="34.30" width="3.60" height="19.20" fill="#0ae7cd"/>
<rect x="342.00" y="34.30" width="2.10" height="19.20" fill="#78f884"/>
<rect x="343.80" y="34.30" width="4.80" height="19.20" fill="#0ae1d7"/>
<rect x="348.30" y="34.30" width="3.50" height="19.20" fill="#0cf3b4"/>
<rect x="351.50" y="34.30" width="2.20" height="19.20" fill="#78f884"/>
<rect x="353.40" y="34.30" width="7.90" height="19.20" fill="#0cf3b4"/>
<rect x="361.00" y="34.30" width="2.80" height="19.20" fill="#04b4ee"/>
<rect x="363.50" y="34.30" width="2.80" height="19.20" fill="#0cf3b4"/>
<rect x="366.00" y="34.30" width="3.60" height="19.20" fill="#78f884"/>
<rect x="369.30" y="34.30" width="2.80" height="19.20" fill="#0cf3b4"/>
<rect x="371.80" y="34.30" width="2.20" height="19.20" fill="#ff9b4b"/>
<rect x="373.70" y="34.30" width="4.80" height="19.20" fill="#0ae1d7"/>
<rect x="378.20" y="34.30" width="3.50" height="19.20" fill="#2488f5"/>
<rect x="381.40" y="34.30" width="2.20" height="19.20" fill="#0ae1d7"/>
<rect x="383.30" y="34.30" width="2.50" height="19.20" fill="#b9ee78"/>
<rect x="385.50" y="34.30" width="2.80" height="19.20" fill="#0cf3b4"/>
<rect x="388.00" y="34.30" width="2.30" height="19.20" fill="#78f884"/>
<rect x="390.00" y="34.30" width="1.80" height="19.20" fill="#0cf3b4"/>
<rect x="391.50" y="34.30" width="2.80" height="19.20" fill="#0ae1d7"/>
<rect x="394.00" y="34.30" width="1.70" height="19.20" fill="#0cf3b4"/>
<rect x="395.40" y="34.30" width="3.90" height="19.20" fill="#fdbc5c"/>
<rect x="399.00" y="34.30" width="2.00" height="19.20" fill="#0cf3b4"/>
<rect x="400.70" y="34.30" width="3.90" height="19.20" fill="#445efa"/>
<rect x="404.30" y="34.30" width="2.60" height="19.20" fill="#0ae1d7"/>
<rect x="406.60" y="34.30" width="2.40" height="19.20" fill="#b9ee78"/>
<rect x="408.70" y="34.30" width="3.60" height="19.20" fill="#0cf3b4"/>
<rect x="412.00" y="34.30" width="2.10" height="19.20" fill="#78f884"/>
<rect x="413.80" y="34.30" width="3.50" height="19.20" fill="#0cf3b4"/>
<rect x="417.00" y="34.30" width="2.30" height="19.20" fill="#78f884"/>
<rect x="419.00" y="34.30" width="5.30" height="19.20" fill="#0cf3b4"/>
<rect x="424.00" y="34.30" width="4.10" height="19.20" fill="#04b4ee"/>
<rect x="427.80" y="34.30" width="7.30" height="19.20" fill="#0cf3b4"/>
<rect x="434.80" y="34.30" width="5.50" height="19.20" fill="#9ff27d"/>
<rect x="440.00" y="34.30" width="2.80" height="19.20" fill="#0cf3b4"/>
<rect x="442.50" y="34.30" width="2.80" height="19.20" fill="#1a96f3"/>
<rect x="445.00" y="34.30" width="9.30" height="19.20" fill="#0cf3b4"/>
<rect x="454.00" y="34.30" width="6.30" height="19.20" fill="#0ae7cd"/>
<rect x="460.00" y="34.30" width="2.50" height="19.20" fill="#0cf3b4"/>
<rect x="462.20" y="34.30" width="3.70" height="19.20" fill="#fdbc5c"/>
<rect x="465.60" y="34.30" width="3.90" height="19.20" fill="#0cf3b4"/>
<rect x="469.20" y="34.30" width="4.10" height="19.20" fill="#0ae1d7"/>
<rect x="473.00" y="34.30" width="3.10" height="19.20" fill="#4e4ffc"/>
<rect x="475.80" y="34.30" width="3.20" height="19.20" fill="#0cf3b4"/>
<rect x="478.70" y="34.30" width="3.60" height="19.20" fill="#fdbc5c"/>
<rect x="482.00" y="34.30" width="3.30" height="19.20" fill="#0cf3b4"/>
<rect x="485.00" y="34.30" width="4.30" height="19.20" fill="#78f884"/>
<rect x="489.00" y="34.30" width="4.00" height="19.20" fill="#0ae1d7"/>
<rect x="492.70" y="34.30" width="2.90" height="19.20" fill="#1a96f3"/>
<rect x="495.30" y="34.30" width="9.20" height="19.20" fill="#0cf3b4"/>
<rect x="288.00" y="52.50" width="4.30" height="19.20" fill="#fdbc5c"/>
<rect x="292.00" y="52.50" width="3.10" height="19.20" fill="#0ae1d7"/>
<rect x="294.80" y="52.50" width="2.20" height="19.20" fill="#0cf3b4"/>
<rect x="296.70" y="52.50" width="2.50" height="19.20" fill="#0acdeb"/>
<rect x="298.90" y="52.50" width="3.20" height="19.20" fill="#78f884"/>
<rect x="301.80" y="52.50" width="3.50" height="19.20" fill="#0cf3b4"/>
<rect x="305.00" y="52.50" width="2.80" height="19.20" fill="#1a96f3"/>
<rect x="307.50" y="52.50" width="3.50" height="19.20" fill="#0ae1d7"/>
<rect x="310.70" y="52.50" width="3.60" height="19.20" fill="#e8d769"/>
<rect x="314.00" y="52.50" width="2.10" height="19.20" fill="#ff9b4b"/>
<rect x="315.80" y="52.50" width="1.50" height="19.20" fill="#78f884"/>
<rect x="317.00" y="52.50" width="4.30" height="19.20" fill="#1a96f3"/>
<rect x="321.00" y="52.50" width="2.80" height="19.20" fill="#1dfa9b"/>
<rect x="323.50" y="52.50" width="4.10" height="19.20" fill="#0ae1d7"/>
<rect x="327.30" y="52.50" width="4.70" height="19.20" fill="#11a2f1"/>
<rect x="331.70" y="52.50" width="5.40" height="19.20" fill="#0ae1d7"/>
<rect x="336.80" y="52.50" width="3.50" height="19.20" fill="#ff5f28"/>
<rect x="340.00" y="52.50" width="2.30" height="19.20" fill="#ff411c"/>
<rect x="342.00" y="52.50" width="1.50" height="19.20" fill="#e8d769"/>
<rect x="343.20" y="52.50" width="4.10" height="19.20" fill="#0ae1d7"/>
<rect x="347.00" y="52.50" width="4.10" height="19.20" fill="#6828ff"/>
<rect x="350.80" y="52.50" width="3.50" height="19.20" fill="#1a96f3"/>
<rect x="354.00" y="52.50" width="1.60" height="19.20" fill="#0cf3b4"/>
<rect x="355.30" y="52.50" width="2.80" height="19.20" fill="#ff3518"/>
<rect x="357.80" y="52.50" width="3.50" height="19.20" fill="#ff9b4b"/>
<rect x="361.00" y="52.50" width="2.80" height="19.20" fill="#0cf3b4"/>
<rect x="363.50" y="52.50" width="6.80" height="19.20" fill="#0acdeb"/>
<rect x="370.00" y="52.50" width="1.70" height="19.20" fill="#78f884"/>
<rect x="371.40" y="52.50" width="2.60" height="19.20" fill="#0ae1d7"/>
<rect x="373.70" y="52.50" width="2.20" height="19.20" fill="#0cf3b4"/>
<rect x="375.60" y="52.50" width="4.70" height="19.20" fill="#0ae1d7"/>
<rect x="380.00" y="52.50" width="2.30" height="19.20" fill="#2488f5"/>
<rect x="382.00" y="52.50" width="4.10" height="19.20" fill="#0ae7cd"/>
<rect x="385.80" y="52.50" width="2.90" height="19.20" fill="#ff2312"/>
<rect x="388.40" y="52.50" width="2.20" height="19.20" fill="#78f884"/>
<rect x="390.30" y="52.50" width="2.20" height="19.20" fill="#0cf3b4"/>
<rect x="392.20" y="52.50" width="7.30" height="19.20" fill="#11a2f1"/>
<rect x="399.20" y="52.50" width="2.10" height="19.20" fill="#0ae1d7"/>
<rect x="401.00" y="52.50" width="3.60" height="19.20" fill="#ff9b4b"/>
<rect x="404.30" y="52.50" width="2.20" height="19.20" fill="#78f884"/>
<rect x="406.20" y="52.50" width="2.80" height="19.20" fill="#0cf3b4"/>
<rect x="408.70" y="52.50" width="2.00" height="19.20" fill="#3474f8"/>
<rect x="410.40" y="52.50" width="8.90" height="19.20" fill="#0ae1d7"/>
<rect x="419.00" y="52.50" width="3.30" height="19.20" fill="#ff893f"/>
<rect x="422.00" y="52.50" width="2.90" height="19.20" fill="#0cf3b4"/>
<rect x="424.60" y="52.50" width="6.70" height="19.20" fill="#08c3ec"/>
<rect x="431.00" y="52.50" width="3.50" height="19.20" fill="#0cf3b4"/>
<rect x="434.20" y="52.50" width="2.80" height="19.20" fill="#b9ee78"/>
<rect x="436.70" y="52.50" width="2.50" height="19.20" fill="#ff7d37"/>
<rect x="438.90" y="52.50" width="2.60" height="19.20" fill="#0cf3b4"/>
<rect x="441.20" y="52.50" width="2.10" height="19.20" fill="#0acdeb"/>
<rect x="443.00" y="52.50" width="7.30" height="19.20" fill="#0ae7cd"/>
<rect x="450.00" y="52.50" width="1.70" height="19.20" fill="#78f884"/>
<rect x="451.40" y="52.50" width="2.90" height="19.20" fill="#fdbc5c"/>
<rect x="454.00" y="52.50" width="4.00" height="19.20" fill="#0cf3b4"/>
<rect x="457.70" y="52.50" width="3.60" height="19.20" fill="#11a2f1"/>
<rect x="461.00" y="52.50" width="4.70" height="19.20" fill="#0ae1d7"/>
<rect x="465.40" y="52.50" width="3.40" height="19.20" fill="#feaf55"/>
<rect x="468.50" y="52.50" width="2.30" height="19.20" fill="#78f884"/>
<rect x="470.50" y="52.50" width="2.80" height="19.20" fill="#b9ee78"/>
<rect x="473.00" y="52.50" width="1.60" height="19.20" fill="#0cf3b4"/>
<rect x="474.30" y="52.50" width="4.00" height="19.20" fill="#1a96f3"/>
<rect x="478.00" y="52.50" width="8.00" height="19.20" fill="#0ae1d7"/>
<rect x="485.70" y="52.50" width="2.90" height="19.20" fill="#fdbc5c"/>
<rect x="488.30" y="52.50" width="4.00" height="19.20" fill="#0cf3b4"/>
<rect x="492.00" y="52.50" width="4.30" height="19.20" fill="#08c3ec"/>
<rect x="496.00" y="52.50" width="2.80" height="19.20" fill="#0cf3b4"/>
<rect x="498.50" y="52.50" width="6.00" height="19.20" fill="#78f884"/>
<rect x="288.00" y="70.70" width="5.30" height="18.20" fill="#b9ee78"/>
<rect x="293.00" y="70.70" width="3.30" height="18.20" fill="#78f884"/>
<rect x="296.00" y="70.70" width="9.30" height="18.20" fill="#0af0be"/>
<rect x="305.00" y="70.70" width="4.10" height="18.20" fill="#2488f5"/>
<rect x="308.80" y="70.70" width="2.90" height="18.20" fill="#0ae1d7"/>
<rect x="311.40" y="70.70" width="2.20" height="18.20" fill="#e8d769"/>
<rect x="313.30" y="70.70" width="3.50" height="18.20" fill="#ff5f28"/>
<rect x="316.50" y="70.70" width="2.20" height="18.20" fill="#b9ee78"/>
<rect x="318.40" y="70.70" width="5.90" height="18.20" fill="#0cf3b4"/>
<rect x="324.00" y="70.70" width="3.60" height="18.20" fill="#583ffd"/>
<rect x="327.30" y="70.70" width="2.80" height="18.20" fill="#1a96f3"/>
<rect x="329.80" y="70.70" width="4.80" height="18.20" fill="#0ae1d7"/>
<rect x="334.30" y="70.70" width="3.50" height="18.20" fill="#ff2312"/>
<rect x="337.50" y="70.70" width="3.40" height="18.20" fill="#ff9b4b"/>
<rect x="340.60" y="70.70" width="8.00" height="18.20" fill="#0cf3b4"/>
<rect x="348.30" y="70.70" width="4.00" height="18.20" fill="#0ae1d7"/>
<rect x="352.00" y="70.70" width="4.30" height="18.20" fill="#0cf3b4"/>
<rect x="356.00" y="70.70" width="2.10" height="18.20" fill="#78f884"/>
<rect x="357.80" y="70.70" width="3.50" height="18.20" fill="#fdbc5c"/>
<rect x="361.00" y="70.70" width="2.80" height="18.20" fill="#0cf3b4"/>
<rect x="363.50" y="70.70" width="2.80" height="18.20" fill="#b9ee78"/>
<rect x="366.00" y="70.70" width="4.30" height="18.20" fill="#0cf3b4"/>
<rect x="370.00" y="70.70" width="1.50" height="18.20" fill="#78f884"/>
<rect x="371.20" y="70.70" width="3.50" height="18.20" fill="#0ae7cd"/>
<rect x="374.40" y="70.70" width="4.10" height="18.20" fill="#1a96f3"/>
<rect x="378.20" y="70.70" width="4.70" height="18.20" fill="#0ae7cd"/>
<rect x="382.60" y="70.70" width="2.90" height="18.20" fill="#ff9b4b"/>
<rect x="385.20" y="70.70" width="1.60" height="18.20" fill="#78f884"/>
<rect x="386.50" y="70.70" width="2.80" height="18.20" fill="#fdbc5c"/>
<rect x="389.00" y="70.70" width="4.10" height="18.20" fill="#0cf3b4"/>
<rect x="392.80" y="70.70" width="2.50" height="18.20" fill="#2488f5"/>
<rect x="395.00" y="70.70" width="3.30" height="18.20" fill="#0cf3b4"/>
<rect x="398.00" y="70.70" width="1.50" height="18.20" fill="#78f884"/>
<rect x="399.20" y="70.70" width="3.50" height="18.20" fill="#0cf3b4"/>
<rect x="402.40" y="70.70" width="2.90" height="18.20" fill="#b9ee78"/>
<rect x="405.00" y="70.70" width="4.70" height="18.20" fill="#0ae7cd"/>
<rect x="409.40" y="70.70" width="6.60" height="18.20" fill="#0cf3b4"/>
<rect x="415.70" y="70.70" width="2.90" height="18.20" fill="#b9ee78"/>
<rect x="418.30" y="70.70" width="8.00" height="18.20" fill="#0cf3b4"/>
<rect x="426.00" y="70.70" width="2.10" height="18.20" fill="#b9ee78"/>
<rect x="427.80" y="70.70" width="3.50" height="18.20" fill="#0cf3b4"/>
<rect x="431.00" y="70.70" width="2.30" height="18.20" fill="#78f884"/>
<rect x="433.00" y="70.70" width="5.90" height="18.20" fill="#0cf3b4"/>
<rect x="438.60" y="70.70" width="2.90" height="18.20" fill="#0acdeb"/>
<rect x="441.20" y="70.70" width="4.70" height="18.20" fill="#0cf3b4"/>
<rect x="445.60" y="70.70" width="2.90" height="18.20" fill="#78f884"/>
<rect x="448.20" y="70.70" width="2.10" height="18.20" fill="#0cf3b4"/>
<rect x="450.00" y="70.70" width="2.30" height="18.20" fill="#78f884"/>
<rect x="452.00" y="70.70" width="6.70" height="18.20" fill="#0cf3b4"/>
<rect x="458.40" y="70.70" width="3.40" height="18.20" fill="#2488f5"/>
<rect x="461.50" y="70.70" width="3.10" height="18.20" fill="#0ae7cd"/>
<rect x="464.30" y="70.70" width="3.30" height="18.20" fill="#ff140d"/>
<rect x="467.30" y="70.70" width="7.30" height="18.20" fill="#0cf3b4"/>
<rect x="474.30" y="70.70" width="2.20" height="18.20" fill="#04b4ee"/>
<rect x="476.20" y="70.70" width="6.10" height="18.20" fill="#0cf3b4"/>
<rect x="482.00" y="70.70" width="5.30" height="18.20" fill="#9ff27d"/>
<rect x="487.00" y="70.70" width="7.90" height="18.20" fill="#0cf3b4"/>
<rect x="494.60" y="70.70" width="3.50" height="18.20" fill="#b9ee78"/>
<rect x="497.80" y="70.70" width="6.70" height="18.20" fill="#78f884"/>
</g></g>
<text class="r" x="281.7" y="28.4" text-anchor="middle">C</text>
<text class="r" x="281.7" y="46.6" text-anchor="middle">E</text>
<text class="r" x="281.7" y="64.8" text-anchor="middle">R</text>
<text class="r" x="281.7" y="83.0" text-anchor="middle">T</text>
<text class="k" x="291.0" y="102.6" text-anchor="middle">101.0</text>
<text class="k" x="343.6" y="102.6" text-anchor="middle">300.75</text>
<text class="k" x="396.1" y="102.6" text-anchor="middle">500.5</text>
<text class="k" x="448.6" y="102.6" text-anchor="middle">700.25</text>
<text class="k" x="501.2" y="102.6" text-anchor="middle">900.0</text>
<rect x="514" y="16.1" width="3.80" height="72.80000000000001" fill="url(#rb)"/>
<line x1="517.8" x2="521.1" y1="29" y2="29" stroke="#1a1a1a" stroke-width="1"/>
<text class="c" x="524.0" y="31.9">0.500</text>
<line x1="517.8" x2="521.1" y1="42.5" y2="42.5" stroke="#1a1a1a" stroke-width="1"/>
<text class="c" x="524.0" y="45.4">0.475</text>
<line x1="517.8" x2="521.1" y1="55.6" y2="55.6" stroke="#1a1a1a" stroke-width="1"/>
<text class="c" x="524.0" y="58.5">0.450</text>
<line x1="517.8" x2="521.1" y1="68.7" y2="68.7" stroke="#1a1a1a" stroke-width="1"/>
<text class="c" x="524.0" y="71.6">0.425</text>
<line x1="517.8" x2="521.1" y1="82" y2="82" stroke="#1a1a1a" stroke-width="1"/>
<text class="c" x="524.0" y="84.9">0.400</text>
</g>
<g id="P3">
<text class="t" x="123.3" y="115.9" text-anchor="middle">AL-GRU(With Data Augmentation)</text>
<g clip-path="url(#cP3)"><g filter="url(#bl)">
<rect x="16.70" y="119.60" width="5.30" height="18.85" fill="#b9ee78"/>
<rect x="21.70" y="119.60" width="3.30" height="18.85" fill="#0ff8a5"/>
<rect x="24.70" y="119.60" width="2.30" height="18.85" fill="#0ae1d7"/>
<rect x="26.70" y="119.60" width="2.70" height="18.85" fill="#78f884"/>
<rect x="29.10" y="119.60" width="2.90" height="18.85" fill="#08c3ec"/>
<rect x="31.70" y="119.60" width="2.10" height="18.85" fill="#0ff8a5"/>
<rect x="33.50" y="119.60" width="2.80" height="18.85" fill="#08c3ec"/>
<rect x="36.00" y="119.60" width="1.50" height="18.85" fill="#0ff8a5"/>
<rect x="37.20" y="119.60" width="2.80" height="18.85" fill="#b9ee78"/>
<rect x="39.70" y="119.60" width="2.60" height="18.85" fill="#ff5f28"/>
<rect x="42.00" y="119.60" width="1.80" height="18.85" fill="#78f884"/>
<rect x="43.50" y="119.60" width="6.50" height="18.85" fill="#0ae1d7"/>
<rect x="49.70" y="119.60" width="2.30" height="18.85" fill="#0ff8a5"/>
<rect x="51.70" y="119.60" width="4.00" height="18.85" fill="#04b4ee"/>
<rect x="55.40" y="119.60" width="3.60" height="18.85" fill="#0ff8a5"/>
<rect x="58.70" y="119.60" width="2.70" height="18.85" fill="#e8d769"/>
<rect x="61.10" y="119.60" width="3.40" height="18.85" fill="#0ff8a5"/>
<rect x="64.20" y="119.60" width="2.10" height="18.85" fill="#0ae1d7"/>
<rect x="66.00" y="119.60" width="4.00" height="18.85" fill="#0ff8a5"/>
<rect x="69.70" y="119.60" width="2.30" height="18.85" fill="#b9ee78"/>
<rect x="71.70" y="119.60" width="2.80" height="18.85" fill="#78f884"/>
<rect x="74.20" y="119.60" width="3.50" height="18.85" fill="#0ff8a5"/>
<rect x="77.40" y="119.60" width="4.60" height="18.85" fill="#08c3ec"/>
<rect x="81.70" y="119.60" width="2.90" height="18.85" fill="#0ff8a5"/>
<rect x="84.30" y="119.60" width="2.70" height="18.85" fill="#b9ee78"/>
<rect x="86.70" y="119.60" width="2.30" height="18.85" fill="#0ff8a5"/>
<rect x="88.70" y="119.60" width="1.60" height="18.85" fill="#78f884"/>
<rect x="90.00" y="119.60" width="6.00" height="18.85" fill="#0ff8a5"/>
<rect x="95.70" y="119.60" width="2.70" height="18.85" fill="#b9ee78"/>
<rect x="98.10" y="119.60" width="3.40" height="18.85" fill="#0ff8a5"/>
<rect x="101.20" y="119.60" width="2.80" height="18.85" fill="#0ae1d7"/>
<rect x="103.70" y="119.60" width="2.80" height="18.85" fill="#0ff8a5"/>
<rect x="106.20" y="119.60" width="3.40" height="18.85" fill="#11a2f1"/>
<rect x="109.30" y="119.60" width="2.70" height="18.85" fill="#0ff8a5"/>
<rect x="111.70" y="119.60" width="4.30" height="18.85" fill="#b9ee78"/>
<rect x="115.70" y="119.60" width="3.90" height="18.85" fill="#0ff8a5"/>
<rect x="119.30" y="119.60" width="2.70" height="18.85" fill="#b9ee78"/>
<rect x="121.70" y="119.60" width="4.80" height="18.85" fill="#0ff8a5"/>
<rect x="126.20" y="119.60" width="3.40" height="18.85" fill="#08c3ec"/>
<rect x="129.30" y="119.60" width="3.50" height="18.85" fill="#0ff8a5"/>
<rect x="132.50" y="119.60" width="2.50" height="18.85" fill="#ff9b4b"/>
<rect x="134.70" y="119.60" width="6.80" height="18.85" fill="#0ae1d7"/>
<rect x="141.20" y="119.60" width="4.80" height="18.85" fill="#9ff27d"/>
<rect x="145.70" y="119.60" width="12.30" height="18.85" fill="#0aeac8"/>
<rect x="157.70" y="119.60" width="4.70" height="18.85" fill="#0ff8a5"/>
<rect x="162.10" y="119.60" width="7.20" height="18.85" fill="#cce572"/>
<rect x="169.00" y="119.60" width="1.50" height="18.85" fill="#0ff8a5"/>
<rect x="170.20" y="119.60" width="2.60" height="18.85" fill="#08c3ec"/>
<rect x="172.50" y="119.60" width="2.50" height="18.85" fill="#0ff8a5"/>
<rect x="174.70" y="119.60" width="2.10" height="18.85" fill="#78f884"/>
<rect x="176.50" y="119.60" width="5.30" height="18.85" fill="#0ae1d7"/>
<rect x="181.50" y="119.60" width="3.50" height="18.85" fill="#78f884"/>
<rect x="184.70" y="119.60" width="3.30" height="18.85" fill="#0ff8a5"/>
<rect x="187.70" y="119.60" width="2.30" height="18.85" fill="#78f884"/>
<rect x="189.70" y="119.60" width="5.80" height="18.85" fill="#0ff8a5"/>
<rect x="195.20" y="119.60" width="2.80" height="18.85" fill="#78f884"/>
<rect x="197.70" y="119.60" width="9.10" height="18.85" fill="#0af0be"/>
<rect x="206.50" y="119.60" width="2.80" height="18.85" fill="#04b4ee"/>
<rect x="209.00" y="119.60" width="2.80" height="18.85" fill="#fdbc5c"/>
<rect x="211.50" y="119.60" width="2.80" height="18.85" fill="#0ff8a5"/>
<rect x="214.00" y="119.60" width="2.80" height="18.85" fill="#08c3ec"/>
<rect x="216.50" y="119.60" width="5.30" height="18.85" fill="#0ff8a5"/>
<rect x="221.50" y="119.60" width="2.80" height="18.85" fill="#b9ee78"/>
<rect x="224.00" y="119.60" width="6.30" height="18.85" fill="#0ff8a5"/>
<rect x="16.70" y="137.45" width="5.30" height="18.85" fill="#78f884"/>
<rect x="21.70" y="137.45" width="3.30" height="18.85" fill="#0aeac8"/>
<rect x="24.70" y="137.45" width="3.10" height="18.85" fill="#cce572"/>
<rect x="27.50" y="137.45" width="3.80" height="18.85" fill="#0ff8a5"/>
<rect x="31.00" y="137.45" width="4.00" height="18.85" fill="#0ae1d7"/>
<rect x="34.70" y="137.45" width="2.80" height="18.85" fill="#0acdeb"/>
<rect x="37.20" y="137.45" width="2.80" height="18.85" fill="#1a96f3"/>
<rect x="39.70" y="137.45" width="3.50" height="18.85" fill="#0ae1d7"/>
<rect x="42.90" y="137.45" width="4.70" height="18.85" fill="#ff5f28"/>
<rect x="47.30" y="137.45" width="2.10" height="18.85" fill="#78f884"/>
<rect x="49.10" y="137.45" width="3.30" height="18.85" fill="#0ae1d7"/>
<rect x="52.10" y="137.45" width="2.80" height="18.85" fill="#3474f8"/>
<rect x="54.60" y="137.45" width="3.00" height="18.85" fill="#0ae1d7"/>
<rect x="57.30" y="137.45" width="3.70" height="18.85" fill="#0ff8a5"/>
<rect x="60.70" y="137.45" width="2.30" height="18.85" fill="#4efa89"/>
<rect x="62.70" y="137.45" width="4.30" height="18.85" fill="#0ff8a5"/>
<rect x="66.70" y="137.45" width="6.60" height="18.85" fill="#f5c761"/>
<rect x="73.00" y="137.45" width="2.80" height="18.85" fill="#0ff8a5"/>
<rect x="75.50" y="137.45" width="2.80" height="18.85" fill="#08c3ec"/>
<rect x="78.00" y="137.45" width="4.00" height="18.85" fill="#0ff8a5"/>
<rect x="81.70" y="137.45" width="2.80" height="18.85" fill="#78f884"/>
<rect x="84.20" y="137.45" width="4.80" height="18.85" fill="#0aeac8"/>
<rect x="88.70" y="137.45" width="3.80" height="18.85" fill="#0ff8a5"/>
<rect x="92.20" y="137.45" width="2.80" height="18.85" fill="#ff9b4b"/>
<rect x="94.70" y="137.45" width="1.80" height="18.85" fill="#0ff8a5"/>
<rect x="96.20" y="137.45" width="2.20" height="18.85" fill="#78f884"/>
<rect x="98.10" y="137.45" width="2.20" height="18.85" fill="#0ff8a5"/>
<rect x="100.00" y="137.45" width="4.00" height="18.85" fill="#0aeac8"/>
<rect x="103.70" y="137.45" width="2.80" height="18.85" fill="#2488f5"/>
<rect x="106.20" y="137.45" width="4.10" height="18.85" fill="#0ff8a5"/>
<rect x="110.00" y="137.45" width="3.40" height="18.85" fill="#b9ee78"/>
<rect x="113.10" y="137.45" width="2.90" height="18.85" fill="#0ae1d7"/>
<rect x="115.70" y="137.45" width="3.30" height="18.85" fill="#78f884"/>
<rect x="118.70" y="137.45" width="3.10" height="18.85" fill="#fdbc5c"/>
<rect x="121.50" y="137.45" width="5.00" height="18.85" fill="#0ff8a5"/>
<rect x="126.20" y="137.45" width="4.10" height="18.85" fill="#0ae1d7"/>
<rect x="130.00" y="137.45" width="2.50" height="18.85" fill="#1a96f3"/>
<rect x="132.20" y="137.45" width="2.40" height="18.85" fill="#b9ee78"/>
<rect x="134.30" y="137.45" width="6.00" height="18.85" fill="#0ff8a5"/>
<rect x="140.00" y="137.45" width="2.80" height="18.85" fill="#f5c761"/>
<rect x="142.50" y="137.45" width="8.50" height="18.85" fill="#0ff8a5"/>
<rect x="150.70" y="137.45" width="2.70" height="18.85" fill="#1a96f3"/>
<rect x="153.10" y="137.45" width="2.90" height="18.85" fill="#0ff8a5"/>
<rect x="155.70" y="137.45" width="2.30" height="18.85" fill="#78f884"/>
<rect x="157.70" y="137.45" width="1.80" height="18.85" fill="#ff7d37"/>
<rect x="159.20" y="137.45" width="1.80" height="18.85" fill="#0ff8a5"/>
<rect x="160.70" y="137.45" width="2.90" height="18.85" fill="#b9ee78"/>
<rect x="163.30" y="137.45" width="5.30" height="18.85" fill="#0ff8a5"/>
<rect x="168.30" y="137.45" width="3.20" height="18.85" fill="#445efa"/>
<rect x="171.20" y="137.45" width="3.10" height="18.85" fill="#0ff8a5"/>
<rect x="174.00" y="137.45" width="4.00" height="18.85" fill="#cce572"/>
<rect x="177.70" y="137.45" width="5.30" height="18.85" fill="#0ff8a5"/>
<rect x="182.70" y="137.45" width="2.30" height="18.85" fill="#08c3ec"/>
<rect x="184.70" y="137.45" width="2.70" height="18.85" fill="#78f884"/>
<rect x="187.10" y="137.45" width="3.20" height="18.85" fill="#fdbc5c"/>
<rect x="190.00" y="137.45" width="2.00" height="18.85" fill="#0ff8a5"/>
<rect x="191.70" y="137.45" width="2.80" height="18.85" fill="#1a96f3"/>
<rect x="194.20" y="137.45" width="5.10" height="18.85" fill="#0ff8a5"/>
<rect x="199.00" y="137.45" width="4.70" height="18.85" fill="#0ae1d7"/>
<rect x="203.40" y="137.45" width="2.80" height="18.85" fill="#0ff8a5"/>
<rect x="205.90" y="137.45" width="4.60" height="18.85" fill="#b9ee78"/>
<rect x="210.20" y="137.45" width="2.80" height="18.85" fill="#78f884"/>
<rect x="212.70" y="137.45" width="5.90" height="18.85" fill="#0aeac8"/>
<rect x="218.30" y="137.45" width="2.70" height="18.85" fill="#1a96f3"/>
<rect x="220.70" y="137.45" width="9.60" height="18.85" fill="#0ff8a5"/>
<rect x="16.70" y="155.30" width="7.70" height="18.85" fill="#0ff8a5"/>
<rect x="24.10" y="155.30" width="2.20" height="18.85" fill="#78f884"/>
<rect x="26.00" y="155.30" width="2.80" height="18.85" fill="#b9ee78"/>
<rect x="28.50" y="155.30" width="2.80" height="18.85" fill="#0ff8a5"/>
<rect x="31.00" y="155.30" width="2.80" height="18.85" fill="#08c3ec"/>
<rect x="33.50" y="155.30" width="5.30" height="18.85" fill="#0ae1d7"/>
<rect x="38.50" y="155.30" width="3.50" height="18.85" fill="#24fa96"/>
<rect x="41.70" y="155.30" width="2.30" height="18.85" fill="#e8d769"/>
<rect x="43.70" y="155.30" width="3.30" height="18.85" fill="#08c3ec"/>
<rect x="46.70" y="155.30" width="2.80" height="18.85" fill="#0ff8a5"/>
<rect x="49.20" y="155.30" width="4.00" height="18.85" fill="#b9ee78"/>
<rect x="52.90" y="155.30" width="4.70" height="18.85" fill="#0ff8a5"/>
<rect x="57.30" y="155.30" width="4.70" height="18.85" fill="#1a96f3"/>
<rect x="61.70" y="155.30" width="3.70" height="18.85" fill="#0ae1d7"/>
<rect x="65.10" y="155.30" width="4.90" height="18.85" fill="#ff2f16"/>
<rect x="69.70" y="155.30" width="1.70" height="18.85" fill="#e8d769"/>
<rect x="71.10" y="155.30" width="4.10" height="18.85" fill="#0aeac8"/>
<rect x="74.90" y="155.30" width="4.10" height="18.85" fill="#7218ff"/>
<rect x="78.70" y="155.30" width="2.30" height="18.85" fill="#0ae1d7"/>
<rect x="80.70" y="155.30" width="2.10" height="18.85" fill="#0ff8a5"/>
<rect x="82.50" y="155.30" width="1.50" height="18.85" fill="#e8d769"/>
<rect x="83.70" y="155.30" width="2.30" height="18.85" fill="#ff7d37"/>
<rect x="85.70" y="155.30" width="3.30" height="18.85" fill="#fdbc5c"/>
<rect x="88.70" y="155.30" width="3.30" height="18.85" fill="#0ff8a5"/>
<rect x="91.70" y="155.30" width="2.90" height="18.85" fill="#0ae1d7"/>
<rect x="94.30" y="155.30" width="2.20" height="18.85" fill="#78f884"/>
<rect x="96.20" y="155.30" width="4.80" height="18.85" fill="#0ff8a5"/>
<rect x="100.70" y="155.30" width="10.30" height="18.85" fill="#0ad9df"/>
<rect x="110.70" y="155.30" width="1.30" height="18.85" fill="#e8d769"/>
<rect x="111.70" y="155.30" width="3.80" height="18.85" fill="#ff3518"/>
<rect x="115.20" y="155.30" width="2.60" height="18.85" fill="#78f884"/>
<rect x="117.50" y="155.30" width="7.80" height="18.85" fill="#08c3ec"/>
<rect x="125.00" y="155.30" width="2.50" height="18.85" fill="#0ff8a5"/>
<rect x="127.20" y="155.30" width="3.10" height="18.85" fill="#e8d769"/>
<rect x="130.00" y="155.30" width="5.30" height="18.85" fill="#0ff8a5"/>
<rect x="135.00" y="155.30" width="2.00" height="18.85" fill="#08c3ec"/>
<rect x="136.70" y="155.30" width="6.80" height="18.85" fill="#0ff8a5"/>
<rect x="143.20" y="155.30" width="1.50" height="18.85" fill="#e8d769"/>
<rect x="144.40" y="155.30" width="2.10" height="18.85" fill="#ff7d37"/>
<rect x="146.20" y="155.30" width="2.60" height="18.85" fill="#0ff8a5"/>
<rect x="148.50" y="155.30" width="3.50" height="18.85" fill="#4e4ffc"/>
<rect x="151.70" y="155.30" width="9.30" height="18.85" fill="#0ff8a5"/>
<rect x="160.70" y="155.30" width="3.60" height="18.85" fill="#feaf55"/>
<rect x="164.00" y="155.30" width="2.80" height="18.85" fill="#0ff8a5"/>
<rect x="166.50" y="155.30" width="4.00" height="18.85" fill="#0ad9df"/>
<rect x="170.20" y="155.30" width="3.40" height="18.85" fill="#08c3ec"/>
<rect x="173.30" y="155.30" width="3.50" height="18.85" fill="#0ae1d7"/>
<rect x="176.50" y="155.30" width="2.80" height="18.85" fill="#f5c761"/>
<rect x="179.00" y="155.30" width="2.80" height="18.85" fill="#0ff8a5"/>
<rect x="181.50" y="155.30" width="2.50" height="18.85" fill="#e8d769"/>
<rect x="183.70" y="155.30" width="2.10" height="18.85" fill="#0ff8a5"/>
<rect x="185.50" y="155.30" width="4.50" height="18.85" fill="#05b9ed"/>
<rect x="189.70" y="155.30" width="2.10" height="18.85" fill="#0ff8a5"/>
<rect x="191.50" y="155.30" width="2.20" height="18.85" fill="#b9ee78"/>
<rect x="193.40" y="155.30" width="1.60" height="18.85" fill="#0ff8a5"/>
<rect x="194.70" y="155.30" width="2.10" height="18.85" fill="#b9ee78"/>
<rect x="196.50" y="155.30" width="2.80" height="18.85" fill="#0ff8a5"/>
<rect x="199.00" y="155.30" width="7.30" height="18.85" fill="#0ad9df"/>
<rect x="206.00" y="155.30" width="3.40" height="18.85" fill="#ff3518"/>
<rect x="209.10" y="155.30" width="2.10" height="18.85" fill="#78f884"/>
<rect x="210.90" y="155.30" width="3.50" height="18.85" fill="#0ff8a5"/>
<rect x="214.10" y="155.30" width="4.70" height="18.85" fill="#05b9ed"/>
<rect x="218.50" y="155.30" width="6.00" height="18.85" fill="#0ff8a5"/>
<rect x="224.20" y="155.30" width="6.10" height="18.85" fill="#feaf55"/>
<rect x="16.70" y="173.15" width="7.70" height="17.85" fill="#b9ee78"/>
<rect x="24.10" y="173.15" width="2.90" height="17.85" fill="#0ff8a5"/>
<rect x="26.70" y="173.15" width="3.30" height="17.85" fill="#04b4ee"/>
<rect x="29.70" y="173.15" width="2.80" height="17.85" fill="#0ff8a5"/>
<rect x="32.20" y="173.15" width="6.60" height="17.85" fill="#0acdeb"/>
<rect x="38.50" y="173.15" width="1.30" height="17.85" fill="#e8d769"/>
<rect x="39.50" y="173.15" width="2.50" height="17.85" fill="#ff4d21"/>
<rect x="41.70" y="173.15" width="2.10" height="17.85" fill="#b9ee78"/>
<rect x="43.50" y="173.15" width="4.70" height="17.85" fill="#0ff8a5"/>
<rect x="47.90" y="173.15" width="2.10" height="17.85" fill="#78f884"/>
<rect x="49.70" y="173.15" width="4.80" height="17.85" fill="#11a2f1"/>
<rect x="54.20" y="173.15" width="7.80" height="17.85" fill="#0df5af"/>
<rect x="61.70" y="173.15" width="3.50" height="17.85" fill="#fdbc5c"/>
<rect x="64.90" y="173.15" width="1.80" height="17.85" fill="#78f884"/>
<rect x="66.40" y="173.15" width="2.30" height="17.85" fill="#ff9b4b"/>
<rect x="68.40" y="173.15" width="6.80" height="17.85" fill="#0aeac8"/>
<rect x="74.90" y="173.15" width="4.10" height="17.85" fill="#0ff8a5"/>
<rect x="78.70" y="173.15" width="4.70" height="17.85" fill="#0ae1d7"/>
<rect x="83.10" y="173.15" width="2.10" height="17.85" fill="#0ff8a5"/>
<rect x="84.90" y="173.15" width="4.10" height="17.85" fill="#fdbc5c"/>
<rect x="88.70" y="173.15" width="10.30" height="17.85" fill="#0ff8a5"/>
<rect x="98.70" y="173.15" width="2.50" height="17.85" fill="#fdbc5c"/>
<rect x="100.90" y="173.15" width="3.70" height="17.85" fill="#0ae1d7"/>
<rect x="104.30" y="173.15" width="3.50" height="17.85" fill="#04b4ee"/>
<rect x="107.50" y="173.15" width="2.50" height="17.85" fill="#0ae1d7"/>
<rect x="109.70" y="173.15" width="3.70" height="17.85" fill="#cce572"/>
<rect x="113.10" y="173.15" width="2.90" height="17.85" fill="#ff9b4b"/>
<rect x="115.70" y="173.15" width="2.70" height="17.85" fill="#0ff8a5"/>
<rect x="118.10" y="173.15" width="5.30" height="17.85" fill="#0ad9df"/>
<rect x="123.10" y="173.15" width="1.60" height="17.85" fill="#0ff8a5"/>
<rect x="124.40" y="173.15" width="2.20" height="17.85" fill="#fdbc5c"/>
<rect x="126.30" y="173.15" width="5.30" height="17.85" fill="#0aeac8"/>
<rect x="131.30" y="173.15" width="5.90" height="17.85" fill="#0ff8a5"/>
<rect x="136.90" y="173.15" width="3.40" height="17.85" fill="#78f884"/>
<rect x="140.00" y="173.15" width="4.20" height="17.85" fill="#0ff8a5"/>
<rect x="143.90" y="173.15" width="2.10" height="17.85" fill="#78f884"/>
<rect x="145.70" y="173.15" width="4.70" height="17.85" fill="#0ff8a5"/>
<rect x="150.10" y="173.15" width="2.90" height="17.85" fill="#0ae1d7"/>
<rect x="152.70" y="173.15" width="5.30" height="17.85" fill="#0ff8a5"/>
<rect x="157.70" y="173.15" width="1.60" height="17.85" fill="#fdbc5c"/>
<rect x="159.00" y="173.15" width="5.20" height="17.85" fill="#0ff8a5"/>
<rect x="163.90" y="173.15" width="1.60" height="17.85" fill="#78f884"/>
<rect x="165.20" y="173.15" width="8.50" height="17.85" fill="#0cf3b4"/>
<rect x="173.40" y="173.15" width="4.10" height="17.85" fill="#fdbc5c"/>
<rect x="177.20" y="173.15" width="2.10" height="17.85" fill="#0ff8a5"/>
<rect x="179.00" y="173.15" width="3.50" height="17.85" fill="#0ad9df"/>
<rect x="182.20" y="173.15" width="7.10" height="17.85" fill="#0ff8a5"/>
<rect x="189.00" y="173.15" width="1.40" height="17.85" fill="#e8d769"/>
<rect x="190.10" y="173.15" width="2.40" height="17.85" fill="#ff7d37"/>
<rect x="192.20" y="173.15" width="2.20" height="17.85" fill="#78f884"/>
<rect x="194.10" y="173.15" width="6.50" height="17.85" fill="#0ff8a5"/>
<rect x="200.30" y="173.15" width="4.10" height="17.85" fill="#0ae1d7"/>
<rect x="204.10" y="173.15" width="3.40" height="17.85" fill="#0ff8a5"/>
<rect x="207.20" y="173.15" width="4.10" height="17.85" fill="#fdbc5c"/>
<rect x="211.00" y="173.15" width="2.80" height="17.85" fill="#32fc8c"/>
<rect x="213.50" y="173.15" width="2.20" height="17.85" fill="#0ae1d7"/>
<rect x="215.40" y="173.15" width="4.10" height="17.85" fill="#11a2f1"/>
<rect x="219.20" y="173.15" width="2.20" height="17.85" fill="#0ff8a5"/>
<rect x="221.10" y="173.15" width="2.90" height="17.85" fill="#feaf55"/>
<rect x="223.70" y="173.15" width="6.60" height="17.85" fill="#0ff8a5"/>
</g></g>
<text class="r" x="10.4" y="131.7" text-anchor="middle">C</text>
<text class="r" x="10.4" y="149.6" text-anchor="middle">E</text>
<text class="r" x="10.4" y="167.4" text-anchor="middle">R</text>
<text class="r" x="10.4" y="185.3" text-anchor="middle">T</text>
<text class="k" x="19.7" y="204.7" text-anchor="middle">101.0</text>
<text class="k" x="71.5" y="204.7" text-anchor="middle">300.75</text>
<text class="k" x="123.4" y="204.7" text-anchor="middle">500.5</text>
<text class="k" x="175.2" y="204.7" text-anchor="middle">700.25</text>
<text class="k" x="227.0" y="204.7" text-anchor="middle">900.0</text>
<text class="k" x="123.3" y="216.2" text-anchor="middle">Time(ms)</text>
<rect x="240" y="119.6" width="3.80" height="71.4" fill="url(#rb)"/>
<line x1="243.8" x2="247.1" y1="132.4" y2="132.4" stroke="#1a1a1a" stroke-width="1"/>
<text class="c" x="250.0" y="135.3">0.510</text>
<line x1="243.8" x2="247.1" y1="148.4" y2="148.4" stroke="#1a1a1a" stroke-width="1"/>
<text class="c" x="250.0" y="151.3">0.495</text>
<line x1="243.8" x2="247.1" y1="165" y2="165" stroke="#1a1a1a" stroke-width="1"/>
<text class="c" x="250.0" y="167.9">0.480</text>
<line x1="243.8" x2="247.1" y1="181.6" y2="181.6" stroke="#1a1a1a" stroke-width="1"/>
<text class="c" x="250.0" y="184.5">0.465</text>
</g>
<g id="P4">
<text class="t" x="396.1" y="114.6" text-anchor="middle">ERA-7</text>
<g clip-path="url(#cP4)"><g filter="url(#bl)">
<rect x="288.00" y="118.30" width="4.80" height="19.22" fill="#9ff27d"/>
<rect x="292.50" y="118.30" width="3.80" height="19.22" fill="#0ad9df"/>
<rect x="296.00" y="118.30" width="2.90" height="19.22" fill="#05b9ed"/>
<rect x="298.60" y="118.30" width="2.90" height="19.22" fill="#0ad9df"/>
<rect x="301.20" y="118.30" width="2.60" height="19.22" fill="#445efa"/>
<rect x="303.50" y="118.30" width="5.00" height="19.22" fill="#0af0be"/>
<rect x="308.20" y="118.30" width="4.10" height="19.22" fill="#e8d769"/>
<rect x="312.00" y="118.30" width="2.80" height="19.22" fill="#feaf55"/>
<rect x="314.50" y="118.30" width="2.30" height="19.22" fill="#78f884"/>
<rect x="316.50" y="118.30" width="3.40" height="19.22" fill="#0ad9df"/>
<rect x="319.60" y="118.30" width="3.50" height="19.22" fill="#0af0be"/>
<rect x="322.80" y="118.30" width="1.80" height="19.22" fill="#78f884"/>
<rect x="324.30" y="118.30" width="3.30" height="19.22" fill="#2488f5"/>
<rect x="327.30" y="118.30" width="2.80" height="19.22" fill="#0ad9df"/>
<rect x="329.80" y="118.30" width="2.20" height="19.22" fill="#05b9ed"/>
<rect x="331.70" y="118.30" width="4.10" height="19.22" fill="#0ad9df"/>
<rect x="335.50" y="118.30" width="1.80" height="19.22" fill="#78f884"/>
<rect x="337.00" y="118.30" width="2.90" height="19.22" fill="#fdbc5c"/>
<rect x="339.60" y="118.30" width="2.70" height="19.22" fill="#0ad9df"/>
<rect x="342.00" y="118.30" width="2.80" height="19.22" fill="#78f884"/>
<rect x="344.50" y="118.30" width="4.10" height="19.22" fill="#0af0be"/>
<rect x="348.30" y="118.30" width="8.00" height="19.22" fill="#0da8f0"/>
<rect x="356.00" y="118.30" width="1.50" height="19.22" fill="#0af0be"/>
<rect x="357.20" y="118.30" width="2.80" height="19.22" fill="#b9ee78"/>
<rect x="359.70" y="118.30" width="1.60" height="19.22" fill="#78f884"/>
<rect x="361.00" y="118.30" width="1.80" height="19.22" fill="#f5c761"/>
<rect x="362.50" y="118.30" width="2.60" height="19.22" fill="#0ad9df"/>
<rect x="364.80" y="118.30" width="2.20" height="19.22" fill="#0da8f0"/>
<rect x="366.70" y="118.30" width="3.60" height="19.22" fill="#0af0be"/>
<rect x="370.00" y="118.30" width="3.30" height="19.22" fill="#0ad1e7"/>
<rect x="373.00" y="118.30" width="2.90" height="19.22" fill="#0da8f0"/>
<rect x="375.60" y="118.30" width="2.90" height="19.22" fill="#0ad1e7"/>
<rect x="378.20" y="118.30" width="4.10" height="19.22" fill="#0da8f0"/>
<rect x="382.00" y="118.30" width="2.00" height="19.22" fill="#0af0be"/>
<rect x="383.70" y="118.30" width="2.40" height="19.22" fill="#b9ee78"/>
<rect x="385.80" y="118.30" width="2.90" height="19.22" fill="#78f884"/>
<rect x="388.40" y="118.30" width="2.20" height="19.22" fill="#0af0be"/>
<rect x="390.30" y="118.30" width="1.60" height="19.22" fill="#5cfa87"/>
<rect x="391.60" y="118.30" width="7.90" height="19.22" fill="#0af0be"/>
<rect x="399.20" y="118.30" width="3.50" height="19.22" fill="#0ad9df"/>
<rect x="402.40" y="118.30" width="2.90" height="19.22" fill="#0af0be"/>
<rect x="405.00" y="118.30" width="1.90" height="19.22" fill="#05b9ed"/>
<rect x="406.60" y="118.30" width="1.70" height="19.22" fill="#b9ee78"/>
<rect x="408.00" y="118.30" width="4.30" height="19.22" fill="#0ad9df"/>
<rect x="412.00" y="118.30" width="2.80" height="19.22" fill="#0aeac8"/>
<rect x="414.50" y="118.30" width="2.80" height="19.22" fill="#0ad9df"/>
<rect x="417.00" y="118.30" width="3.10" height="19.22" fill="#cce572"/>
<rect x="419.80" y="118.30" width="5.10" height="19.22" fill="#0af0be"/>
<rect x="424.60" y="118.30" width="2.90" height="19.22" fill="#0ad9df"/>
<rect x="427.20" y="118.30" width="2.10" height="19.22" fill="#78f884"/>
<rect x="429.00" y="118.30" width="2.30" height="19.22" fill="#0ad9df"/>
<rect x="431.00" y="118.30" width="3.50" height="19.22" fill="#05b9ed"/>
<rect x="434.20" y="118.30" width="6.10" height="19.22" fill="#0af0be"/>
<rect x="440.00" y="118.30" width="3.80" height="19.22" fill="#f5c761"/>
<rect x="443.50" y="118.30" width="3.80" height="19.22" fill="#0af0be"/>
<rect x="447.00" y="118.30" width="4.70" height="19.22" fill="#0ad1e7"/>
<rect x="451.40" y="118.30" width="2.90" height="19.22" fill="#0da8f0"/>
<rect x="454.00" y="118.30" width="7.30" height="19.22" fill="#0af0be"/>
<rect x="461.00" y="118.30" width="3.10" height="19.22" fill="#cce572"/>
<rect x="463.80" y="118.30" width="10.80" height="19.22" fill="#0af0be"/>
<rect x="474.30" y="118.30" width="2.20" height="19.22" fill="#78f884"/>
<rect x="476.20" y="118.30" width="3.50" height="19.22" fill="#0ad1e7"/>
<rect x="479.40" y="118.30" width="4.10" height="19.22" fill="#05b9ed"/>
<rect x="483.20" y="118.30" width="2.60" height="19.22" fill="#ff4d21"/>
<rect x="485.50" y="118.30" width="3.10" height="19.22" fill="#0af0be"/>
<rect x="488.30" y="118.30" width="2.20" height="19.22" fill="#78f884"/>
<rect x="490.20" y="118.30" width="14.30" height="19.22" fill="#0aeac8"/>
<rect x="288.00" y="136.53" width="4.60" height="19.22" fill="#0af0be"/>
<rect x="292.30" y="136.53" width="3.50" height="19.22" fill="#ff9b4b"/>
<rect x="295.50" y="136.53" width="1.80" height="19.22" fill="#78f884"/>
<rect x="297.00" y="136.53" width="1.90" height="19.22" fill="#0ad9df"/>
<rect x="298.60" y="136.53" width="2.20" height="19.22" fill="#b9ee78"/>
<rect x="300.50" y="136.53" width="2.80" height="19.22" fill="#0ad9df"/>
<rect x="303.00" y="136.53" width="2.90" height="19.22" fill="#11a2f1"/>
<rect x="305.60" y="136.53" width="2.20" height="19.22" fill="#0ad9df"/>
<rect x="307.50" y="136.53" width="2.80" height="19.22" fill="#0da8f0"/>
<rect x="310.00" y="136.53" width="3.60" height="19.22" fill="#0ad9df"/>
<rect x="313.30" y="136.53" width="2.00" height="19.22" fill="#e8d769"/>
<rect x="315.00" y="136.53" width="4.00" height="19.22" fill="#ff140d"/>
<rect x="318.70" y="136.53" width="1.90" height="19.22" fill="#e8d769"/>
<rect x="320.30" y="136.53" width="2.20" height="19.22" fill="#0ad9df"/>
<rect x="322.20" y="136.53" width="4.70" height="19.22" fill="#7218ff"/>
<rect x="326.60" y="136.53" width="2.20" height="19.22" fill="#0ad9df"/>
<rect x="328.50" y="136.53" width="2.30" height="19.22" fill="#78f884"/>
<rect x="330.50" y="136.53" width="2.20" height="19.22" fill="#0af0be"/>
<rect x="332.40" y="136.53" width="2.20" height="19.22" fill="#fdbc5c"/>
<rect x="334.30" y="136.53" width="4.00" height="19.22" fill="#0ad9df"/>
<rect x="338.00" y="136.53" width="2.30" height="19.22" fill="#78f884"/>
<rect x="340.00" y="136.53" width="3.50" height="19.22" fill="#ff9b4b"/>
<rect x="343.20" y="136.53" width="4.10" height="19.22" fill="#0ae1d7"/>
<rect x="347.00" y="136.53" width="3.50" height="19.22" fill="#4e4ffc"/>
<rect x="350.20" y="136.53" width="4.70" height="19.22" fill="#0af0be"/>
<rect x="354.60" y="136.53" width="1.70" height="19.22" fill="#5cfa87"/>
<rect x="356.00" y="136.53" width="5.30" height="19.22" fill="#0af0be"/>
<rect x="361.00" y="136.53" width="4.10" height="19.22" fill="#0ae1d7"/>
<rect x="364.80" y="136.53" width="2.50" height="19.22" fill="#78f884"/>
<rect x="367.00" y="136.53" width="5.10" height="19.22" fill="#0af0be"/>
<rect x="371.80" y="136.53" width="2.20" height="19.22" fill="#9ff27d"/>
<rect x="373.70" y="136.53" width="3.10" height="19.22" fill="#0af0be"/>
<rect x="376.50" y="136.53" width="3.30" height="19.22" fill="#445efa"/>
<rect x="379.50" y="136.53" width="3.40" height="19.22" fill="#0af0be"/>
<rect x="382.60" y="136.53" width="2.20" height="19.22" fill="#78f884"/>
<rect x="384.50" y="136.53" width="2.30" height="19.22" fill="#0ad9df"/>
<rect x="386.50" y="136.53" width="2.20" height="19.22" fill="#78f884"/>
<rect x="388.40" y="136.53" width="5.90" height="19.22" fill="#0af0be"/>
<rect x="394.00" y="136.53" width="4.30" height="19.22" fill="#5cfa87"/>
<rect x="398.00" y="136.53" width="5.30" height="19.22" fill="#0af0be"/>
<rect x="403.00" y="136.53" width="2.60" height="19.22" fill="#4e4ffc"/>
<rect x="405.30" y="136.53" width="1.60" height="19.22" fill="#0ad9df"/>
<rect x="406.60" y="136.53" width="2.40" height="19.22" fill="#cce572"/>
<rect x="408.70" y="136.53" width="5.40" height="19.22" fill="#0af0be"/>
<rect x="413.80" y="136.53" width="2.20" height="19.22" fill="#78f884"/>
<rect x="415.70" y="136.53" width="8.60" height="19.22" fill="#0aeac8"/>
<rect x="424.00" y="136.53" width="4.10" height="19.22" fill="#3474f8"/>
<rect x="427.80" y="136.53" width="3.50" height="19.22" fill="#0ad9df"/>
<rect x="431.00" y="136.53" width="4.10" height="19.22" fill="#9ff27d"/>
<rect x="434.80" y="136.53" width="4.10" height="19.22" fill="#5cfa87"/>
<rect x="438.60" y="136.53" width="3.50" height="19.22" fill="#0af0be"/>
<rect x="441.80" y="136.53" width="2.90" height="19.22" fill="#0da8f0"/>
<rect x="444.40" y="136.53" width="4.10" height="19.22" fill="#0ad9df"/>
<rect x="448.20" y="136.53" width="4.10" height="19.22" fill="#0df5af"/>
<rect x="452.00" y="136.53" width="4.10" height="19.22" fill="#0ad9df"/>
<rect x="455.80" y="136.53" width="3.50" height="19.22" fill="#0da8f0"/>
<rect x="459.00" y="136.53" width="2.80" height="19.22" fill="#0af0be"/>
<rect x="461.50" y="136.53" width="3.50" height="19.22" fill="#cce572"/>
<rect x="464.70" y="136.53" width="2.20" height="19.22" fill="#0af0be"/>
<rect x="466.60" y="136.53" width="2.20" height="19.22" fill="#05b9ed"/>
<rect x="468.50" y="136.53" width="3.50" height="19.22" fill="#0af0be"/>
<rect x="471.70" y="136.53" width="4.10" height="19.22" fill="#11a2f1"/>
<rect x="475.50" y="136.53" width="2.80" height="19.22" fill="#0ad9df"/>
<rect x="478.00" y="136.53" width="4.30" height="19.22" fill="#f5c761"/>
<rect x="482.00" y="136.53" width="2.80" height="19.22" fill="#78f884"/>
<rect x="484.50" y="136.53" width="2.80" height="19.22" fill="#0af0be"/>
<rect x="487.00" y="136.53" width="2.30" height="19.22" fill="#78f884"/>
<rect x="489.00" y="136.53" width="15.50" height="19.22" fill="#0aeac8"/>
<rect x="288.00" y="154.75" width="8.30" height="19.22" fill="#0ad9df"/>
<rect x="296.00" y="154.75" width="6.10" height="19.22" fill="#fdbc5c"/>
<rect x="301.80" y="154.75" width="1.50" height="19.22" fill="#78f884"/>
<rect x="303.00" y="154.75" width="3.30" height="19.22" fill="#445efa"/>
<rect x="306.00" y="154.75" width="3.10" height="19.22" fill="#05b9ed"/>
<rect x="308.80" y="154.75" width="2.90" height="19.22" fill="#0ad9df"/>
<rect x="311.40" y="154.75" width="2.90" height="19.22" fill="#fdbc5c"/>
<rect x="314.00" y="154.75" width="2.80" height="19.22" fill="#78f884"/>
<rect x="316.50" y="154.75" width="3.40" height="19.22" fill="#0ad1e7"/>
<rect x="319.60" y="154.75" width="2.20" height="19.22" fill="#0af0be"/>
<rect x="321.50" y="154.75" width="4.20" height="19.22" fill="#b9ee78"/>
<rect x="325.40" y="154.75" width="4.10" height="19.22" fill="#0af0be"/>
<rect x="329.20" y="154.75" width="3.10" height="19.22" fill="#2488f5"/>
<rect x="332.00" y="154.75" width="4.50" height="19.22" fill="#0ad1e7"/>
<rect x="336.20" y="154.75" width="2.80" height="19.22" fill="#ff7d37"/>
<rect x="338.70" y="154.75" width="2.90" height="19.22" fill="#feaf55"/>
<rect x="341.30" y="154.75" width="2.20" height="19.22" fill="#78f884"/>
<rect x="343.20" y="154.75" width="4.10" height="19.22" fill="#0ad9df"/>
<rect x="347.00" y="154.75" width="5.10" height="19.22" fill="#583ffd"/>
<rect x="351.80" y="154.75" width="3.10" height="19.22" fill="#0ad9df"/>
<rect x="354.60" y="154.75" width="1.90" height="19.22" fill="#78f884"/>
<rect x="356.20" y="154.75" width="3.10" height="19.22" fill="#ff893f"/>
<rect x="359.00" y="154.75" width="2.30" height="19.22" fill="#e8d769"/>
<rect x="361.00" y="154.75" width="4.10" height="19.22" fill="#0af0be"/>
<rect x="364.80" y="154.75" width="4.10" height="19.22" fill="#0ad9df"/>
<rect x="368.60" y="154.75" width="2.20" height="19.22" fill="#78f884"/>
<rect x="370.50" y="154.75" width="3.50" height="19.22" fill="#0ad9df"/>
<rect x="373.70" y="154.75" width="9.20" height="19.22" fill="#05b9ed"/>
<rect x="382.60" y="154.75" width="2.20" height="19.22" fill="#0af0be"/>
<rect x="384.50" y="154.75" width="4.20" height="19.22" fill="#ff4d21"/>
<rect x="388.40" y="154.75" width="2.20" height="19.22" fill="#78f884"/>
<rect x="390.30" y="154.75" width="2.20" height="19.22" fill="#0ad9df"/>
<rect x="392.20" y="154.75" width="7.30" height="19.22" fill="#11a2f1"/>
<rect x="399.20" y="154.75" width="3.50" height="19.22" fill="#0ad9df"/>
<rect x="402.40" y="154.75" width="4.10" height="19.22" fill="#fdbc5c"/>
<rect x="406.20" y="154.75" width="2.80" height="19.22" fill="#0af0be"/>
<rect x="408.70" y="154.75" width="6.10" height="19.22" fill="#05b9ed"/>
<rect x="414.50" y="154.75" width="3.40" height="19.22" fill="#0af0be"/>
<rect x="417.60" y="154.75" width="3.30" height="19.22" fill="#ff9b4b"/>
<rect x="420.60" y="154.75" width="3.70" height="19.22" fill="#0af0be"/>
<rect x="424.00" y="154.75" width="4.10" height="19.22" fill="#1a96f3"/>
<rect x="427.80" y="154.75" width="3.50" height="19.22" fill="#0ad9df"/>
<rect x="431.00" y="154.75" width="4.10" height="19.22" fill="#0af0be"/>
<rect x="434.80" y="154.75" width="4.50" height="19.22" fill="#feaf55"/>
<rect x="439.00" y="154.75" width="2.50" height="19.22" fill="#0af0be"/>
<rect x="441.20" y="154.75" width="4.10" height="19.22" fill="#0ad9df"/>
<rect x="445.00" y="154.75" width="3.50" height="19.22" fill="#11a2f1"/>
<rect x="448.20" y="154.75" width="2.10" height="19.22" fill="#0ad9df"/>
<rect x="450.00" y="154.75" width="2.70" height="19.22" fill="#9ff27d"/>
<rect x="452.40" y="154.75" width="2.40" height="19.22" fill="#0ad9df"/>
<rect x="454.50" y="154.75" width="2.80" height="19.22" fill="#78f884"/>
<rect x="457.00" y="154.75" width="4.80" height="19.22" fill="#05b9ed"/>
<rect x="461.50" y="154.75" width="4.20" height="19.22" fill="#0af0be"/>
<rect x="465.40" y="154.75" width="5.40" height="19.22" fill="#b9ee78"/>
<rect x="470.50" y="154.75" width="2.80" height="19.22" fill="#0af0be"/>
<rect x="473.00" y="154.75" width="6.00" height="19.22" fill="#0da8f0"/>
<rect x="478.70" y="154.75" width="2.20" height="19.22" fill="#0af0be"/>
<rect x="480.60" y="154.75" width="3.50" height="19.22" fill="#e8d769"/>
<rect x="483.80" y="154.75" width="2.90" height="19.22" fill="#78f884"/>
<rect x="486.40" y="154.75" width="5.90" height="19.22" fill="#0af0be"/>
<rect x="492.00" y="154.75" width="2.90" height="19.22" fill="#05b9ed"/>
<rect x="494.60" y="154.75" width="2.70" height="19.22" fill="#0af0be"/>
<rect x="497.00" y="154.75" width="7.50" height="19.22" fill="#78f884"/>
<rect x="288.00" y="172.97" width="5.80" height="18.22" fill="#fdbc5c"/>
<rect x="293.50" y="172.97" width="2.80" height="18.22" fill="#0af0be"/>
<rect x="296.00" y="172.97" width="4.80" height="18.22" fill="#0ad1e7"/>
<rect x="300.50" y="172.97" width="3.50" height="18.22" fill="#0af0be"/>
<rect x="303.70" y="172.97" width="6.10" height="18.22" fill="#0da8f0"/>
<rect x="309.50" y="172.97" width="2.20" height="18.22" fill="#0ad9df"/>
<rect x="311.40" y="172.97" width="2.90" height="18.22" fill="#ff7d37"/>
<rect x="314.00" y="172.97" width="7.80" height="18.22" fill="#9ff27d"/>
<rect x="321.50" y="172.97" width="3.10" height="18.22" fill="#0af0be"/>
<rect x="324.30" y="172.97" width="4.20" height="18.22" fill="#445efa"/>
<rect x="328.20" y="172.97" width="3.80" height="18.22" fill="#0ad9df"/>
<rect x="331.70" y="172.97" width="2.90" height="18.22" fill="#0af0be"/>
<rect x="334.30" y="172.97" width="2.20" height="18.22" fill="#ff893f"/>
<rect x="336.20" y="172.97" width="1.60" height="18.22" fill="#e8d769"/>
<rect x="337.50" y="172.97" width="2.80" height="18.22" fill="#fdbc5c"/>
<rect x="340.00" y="172.97" width="1.60" height="18.22" fill="#0af0be"/>
<rect x="341.30" y="172.97" width="6.00" height="18.22" fill="#0ad1e7"/>
<rect x="347.00" y="172.97" width="7.90" height="18.22" fill="#0da8f0"/>
<rect x="354.60" y="172.97" width="2.70" height="18.22" fill="#0ad9df"/>
<rect x="357.00" y="172.97" width="4.30" height="18.22" fill="#fdbc5c"/>
<rect x="361.00" y="172.97" width="1.30" height="18.22" fill="#fdbc5c"/>
<rect x="362.00" y="172.97" width="5.70" height="18.22" fill="#0af0be"/>
<rect x="367.40" y="172.97" width="3.10" height="18.22" fill="#05b9ed"/>
<rect x="370.20" y="172.97" width="3.10" height="18.22" fill="#0df5af"/>
<rect x="373.00" y="172.97" width="2.30" height="18.22" fill="#78f884"/>
<rect x="375.00" y="172.97" width="4.10" height="18.22" fill="#11a2f1"/>
<rect x="378.80" y="172.97" width="5.50" height="18.22" fill="#0ad9df"/>
<rect x="384.00" y="172.97" width="1.70" height="18.22" fill="#e8d769"/>
<rect x="385.40" y="172.97" width="3.30" height="18.22" fill="#feaf55"/>
<rect x="388.40" y="172.97" width="3.40" height="18.22" fill="#0af0be"/>
<rect x="391.50" y="172.97" width="3.50" height="18.22" fill="#11a2f1"/>
<rect x="394.70" y="172.97" width="9.90" height="18.22" fill="#0af0be"/>
<rect x="404.30" y="172.97" width="4.70" height="18.22" fill="#0ad9df"/>
<rect x="408.70" y="172.97" width="6.10" height="18.22" fill="#0af0be"/>
<rect x="414.50" y="172.97" width="2.80" height="18.22" fill="#78f884"/>
<rect x="417.00" y="172.97" width="7.30" height="18.22" fill="#0af0be"/>
<rect x="424.00" y="172.97" width="4.80" height="18.22" fill="#08c3ec"/>
<rect x="428.50" y="172.97" width="2.80" height="18.22" fill="#0af0be"/>
<rect x="431.00" y="172.97" width="1.60" height="18.22" fill="#fdbc5c"/>
<rect x="432.30" y="172.97" width="4.00" height="18.22" fill="#08c3ec"/>
<rect x="436.00" y="172.97" width="2.90" height="18.22" fill="#0af0be"/>
<rect x="438.60" y="172.97" width="2.20" height="18.22" fill="#78f884"/>
<rect x="440.50" y="172.97" width="6.10" height="18.22" fill="#0ad9df"/>
<rect x="446.30" y="172.97" width="4.70" height="18.22" fill="#9ff27d"/>
<rect x="450.70" y="172.97" width="7.30" height="18.22" fill="#0ae1d7"/>
<rect x="457.70" y="172.97" width="3.60" height="18.22" fill="#1a96f3"/>
<rect x="461.00" y="172.97" width="3.30" height="18.22" fill="#0af0be"/>
<rect x="464.00" y="172.97" width="4.30" height="18.22" fill="#ff893f"/>
<rect x="468.00" y="172.97" width="5.90" height="18.22" fill="#0af0be"/>
<rect x="473.60" y="172.97" width="5.40" height="18.22" fill="#05b9ed"/>
<rect x="478.70" y="172.97" width="3.60" height="18.22" fill="#0af0be"/>
<rect x="482.00" y="172.97" width="5.30" height="18.22" fill="#b9ee78"/>
<rect x="487.00" y="172.97" width="4.10" height="18.22" fill="#0af0be"/>
<rect x="490.80" y="172.97" width="3.50" height="18.22" fill="#1a96f3"/>
<rect x="494.00" y="172.97" width="2.30" height="18.22" fill="#0af0be"/>
<rect x="496.00" y="172.97" width="2.30" height="18.22" fill="#78f884"/>
<rect x="498.00" y="172.97" width="6.50" height="18.22" fill="#0af0be"/>
</g></g>
<text class="r" x="281.7" y="130.6" text-anchor="middle">C</text>
<text class="r" x="281.7" y="148.8" text-anchor="middle">E</text>
<text class="r" x="281.7" y="167.1" text-anchor="middle">R</text>
<text class="r" x="281.7" y="185.3" text-anchor="middle">T</text>
<text class="k" x="291.0" y="204.9" text-anchor="middle">101.0</text>
<text class="k" x="343.6" y="204.9" text-anchor="middle">300.75</text>
<text class="k" x="396.1" y="204.9" text-anchor="middle">500.5</text>
<text class="k" x="448.6" y="204.9" text-anchor="middle">700.25</text>
<text class="k" x="501.2" y="204.9" text-anchor="middle">900.0</text>
<text class="k" x="396.1" y="216.4" text-anchor="middle">Time(ms)</text>
<rect x="514.4" y="118.3" width="4.00" height="72.89999999999999" fill="url(#rb)"/>
<line x1="518.4" x2="521.7" y1="126.7" y2="126.7" stroke="#1a1a1a" stroke-width="1"/>
<text class="c" x="524.6" y="129.6">0.408</text>
<line x1="518.4" x2="521.7" y1="139.5" y2="139.5" stroke="#1a1a1a" stroke-width="1"/>
<text class="c" x="524.6" y="142.4">0.400</text>
<line x1="518.4" x2="521.7" y1="152.3" y2="152.3" stroke="#1a1a1a" stroke-width="1"/>
<text class="c" x="524.6" y="155.2">0.392</text>
<line x1="518.4" x2="521.7" y1="165.1" y2="165.1" stroke="#1a1a1a" stroke-width="1"/>
<text class="c" x="524.6" y="168.0">0.384</text>
<line x1="518.4" x2="521.7" y1="177.9" y2="177.9" stroke="#1a1a1a" stroke-width="1"/>
<text class="c" x="524.6" y="180.8">0.376</text>
<line x1="518.4" x2="521.7" y1="190.6" y2="190.6" stroke="#1a1a1a" stroke-width="1"/>
<text class="c" x="524.6" y="193.5">0.368</text>
</g>
<g id="P5">
<text class="t" x="125.6" y="233.8" text-anchor="middle">GRU-AL</text>
<g clip-path="url(#cP5)"><g filter="url(#bl)">
<rect x="17.00" y="237.50" width="4.30" height="19.17" fill="#1a96f3"/>
<rect x="21.00" y="237.50" width="3.10" height="19.17" fill="#0ae1d7"/>
<rect x="23.80" y="237.50" width="2.10" height="19.17" fill="#78f884"/>
<rect x="25.60" y="237.50" width="1.70" height="19.17" fill="#0ff8a5"/>
<rect x="27.00" y="237.50" width="2.10" height="19.17" fill="#b9ee78"/>
<rect x="28.80" y="237.50" width="4.00" height="19.17" fill="#ff893f"/>
<rect x="32.50" y="237.50" width="2.80" height="19.17" fill="#ff5f28"/>
<rect x="35.00" y="237.50" width="3.30" height="19.17" fill="#ff3b1a"/>
<rect x="38.00" y="237.50" width="18.00" height="19.17" fill="#ff2c15"/>
<rect x="55.70" y="237.50" width="2.10" height="19.17" fill="#ff4d21"/>
<rect x="57.50" y="237.50" width="5.80" height="19.17" fill="#ff2c15"/>
<rect x="63.00" y="237.50" width="1.70" height="19.17" fill="#ff3b1a"/>
<rect x="64.40" y="237.50" width="12.20" height="19.17" fill="#ff2c15"/>
<rect x="76.30" y="237.50" width="2.00" height="19.17" fill="#ff4d21"/>
<rect x="78.00" y="237.50" width="4.30" height="19.17" fill="#ff2c15"/>
<rect x="82.00" y="237.50" width="1.50" height="19.17" fill="#ff3b1a"/>
<rect x="83.20" y="237.50" width="16.10" height="19.17" fill="#ff2c15"/>
<rect x="99.00" y="237.50" width="2.80" height="19.17" fill="#ff4d21"/>
<rect x="101.50" y="237.50" width="11.80" height="19.17" fill="#ff2c15"/>
<rect x="113.00" y="237.50" width="2.60" height="19.17" fill="#ff4d21"/>
<rect x="115.30" y="237.50" width="10.40" height="19.17" fill="#ff2c15"/>
<rect x="125.40" y="237.50" width="1.50" height="19.17" fill="#ff3b1a"/>
<rect x="126.60" y="237.50" width="6.70" height="19.17" fill="#ff2c15"/>
<rect x="133.00" y="237.50" width="2.70" height="19.17" fill="#ff4d21"/>
<rect x="135.40" y="237.50" width="13.90" height="19.17" fill="#ff2c15"/>
<rect x="149.00" y="237.50" width="3.00" height="19.17" fill="#ff4d21"/>
<rect x="151.70" y="237.50" width="10.30" height="19.17" fill="#ff2c15"/>
<rect x="161.70" y="237.50" width="2.90" height="19.17" fill="#ff4d21"/>
<rect x="164.30" y="237.50" width="17.80" height="19.17" fill="#ff2c15"/>
<rect x="181.80" y="237.50" width="4.10" height="19.17" fill="#ff3b1a"/>
<rect x="185.60" y="237.50" width="11.60" height="19.17" fill="#ff2c15"/>
<rect x="196.90" y="237.50" width="2.80" height="19.17" fill="#ff4d21"/>
<rect x="199.40" y="237.50" width="8.90" height="19.17" fill="#ff2c15"/>
<rect x="208.00" y="237.50" width="3.00" height="19.17" fill="#ff4d21"/>
<rect x="210.70" y="237.50" width="6.80" height="19.17" fill="#ff2c15"/>
<rect x="217.20" y="237.50" width="2.10" height="19.17" fill="#ff4d21"/>
<rect x="219.00" y="237.50" width="0.80" height="19.17" fill="#ff2c15"/>
<rect x="219.50" y="237.50" width="2.80" height="19.17" fill="#ff4d21"/>
<rect x="222.00" y="237.50" width="1.80" height="19.17" fill="#ff2c15"/>
<rect x="223.50" y="237.50" width="2.10" height="19.17" fill="#ff4d21"/>
<rect x="225.30" y="237.50" width="9.20" height="19.17" fill="#ff2c15"/>
<rect x="17.00" y="255.68" width="5.30" height="19.17" fill="#2488f5"/>
<rect x="22.00" y="255.68" width="1.30" height="19.17" fill="#0ae1d7"/>
<rect x="23.00" y="255.68" width="2.90" height="19.17" fill="#5cfa87"/>
<rect x="25.60" y="255.68" width="2.20" height="19.17" fill="#e8d769"/>
<rect x="27.50" y="255.68" width="5.30" height="19.17" fill="#ff893f"/>
<rect x="32.50" y="255.68" width="4.10" height="19.17" fill="#ff5323"/>
<rect x="36.30" y="255.68" width="6.50" height="19.17" fill="#ff411c"/>
<rect x="42.50" y="255.68" width="1.00" height="19.17" fill="#ff2312"/>
<rect x="43.20" y="255.68" width="1.50" height="19.17" fill="#ff471e"/>
<rect x="44.40" y="255.68" width="14.70" height="19.17" fill="#ff2312"/>
<rect x="58.80" y="255.68" width="1.50" height="19.17" fill="#ff471e"/>
<rect x="60.00" y="255.68" width="4.70" height="19.17" fill="#ff2312"/>
<rect x="64.40" y="255.68" width="1.50" height="19.17" fill="#ff3b1a"/>
<rect x="65.60" y="255.68" width="8.50" height="19.17" fill="#ff2312"/>
<rect x="73.80" y="255.68" width="1.50" height="19.17" fill="#ff471e"/>
<rect x="75.00" y="255.68" width="10.30" height="19.17" fill="#ff2312"/>
<rect x="85.00" y="255.68" width="1.60" height="19.17" fill="#ff3b1a"/>
<rect x="86.30" y="255.68" width="20.50" height="19.17" fill="#ff2312"/>
<rect x="106.50" y="255.68" width="5.40" height="19.17" fill="#ff471e"/>
<rect x="111.60" y="255.68" width="10.30" height="19.17" fill="#ff2312"/>
<rect x="121.60" y="255.68" width="2.70" height="19.17" fill="#ff471e"/>
<rect x="124.00" y="255.68" width="11.70" height="19.17" fill="#ff2312"/>
<rect x="135.40" y="255.68" width="2.90" height="19.17" fill="#ff471e"/>
<rect x="138.00" y="255.68" width="5.30" height="19.17" fill="#ff2312"/>
<rect x="143.00" y="255.68" width="2.00" height="19.17" fill="#ff3b1a"/>
<rect x="144.70" y="255.68" width="13.60" height="19.17" fill="#ff2312"/>
<rect x="158.00" y="255.68" width="2.80" height="19.17" fill="#ff471e"/>
<rect x="160.50" y="255.68" width="12.80" height="19.17" fill="#ff2312"/>
<rect x="173.00" y="255.68" width="2.80" height="19.17" fill="#ff471e"/>
<rect x="175.50" y="255.68" width="14.10" height="19.17" fill="#ff2312"/>
<rect x="189.30" y="255.68" width="3.00" height="19.17" fill="#ff471e"/>
<rect x="192.00" y="255.68" width="7.70" height="19.17" fill="#ff2312"/>
<rect x="199.40" y="255.68" width="2.90" height="19.17" fill="#ff471e"/>
<rect x="202.00" y="255.68" width="12.70" height="19.17" fill="#ff2312"/>
<rect x="214.40" y="255.68" width="2.90" height="19.17" fill="#ff471e"/>
<rect x="217.00" y="255.68" width="4.10" height="19.17" fill="#ff2312"/>
<rect x="220.80" y="255.68" width="2.10" height="19.17" fill="#ff471e"/>
<rect x="222.60" y="255.68" width="11.90" height="19.17" fill="#ff1e10"/>
<rect x="17.00" y="273.85" width="5.30" height="19.17" fill="#3474f8"/>
<rect x="22.00" y="273.85" width="7.70" height="19.17" fill="#04b4ee"/>
<rect x="29.40" y="273.85" width="2.90" height="19.17" fill="#0aeac8"/>
<rect x="32.00" y="273.85" width="2.70" height="19.17" fill="#a9f07b"/>
<rect x="34.40" y="273.85" width="1.50" height="19.17" fill="#ecd267"/>
<rect x="35.60" y="273.85" width="2.70" height="19.17" fill="#a9f07b"/>
<rect x="38.00" y="273.85" width="4.30" height="19.17" fill="#0ff8a5"/>
<rect x="42.00" y="273.85" width="4.00" height="19.17" fill="#d4e16f"/>
<rect x="45.70" y="273.85" width="4.10" height="19.17" fill="#fdb558"/>
<rect x="49.50" y="273.85" width="3.40" height="19.17" fill="#e2da6b"/>
<rect x="52.60" y="273.85" width="5.30" height="19.17" fill="#8cf580"/>
<rect x="57.60" y="273.85" width="7.70" height="19.17" fill="#fdb558"/>
<rect x="65.00" y="273.85" width="2.30" height="19.17" fill="#fea650"/>
<rect x="67.00" y="273.85" width="4.60" height="19.17" fill="#fbbe5d"/>
<rect x="71.30" y="273.85" width="3.00" height="19.17" fill="#ecd267"/>
<rect x="74.00" y="273.85" width="3.30" height="19.17" fill="#ff9c4b"/>
<rect x="77.00" y="273.85" width="4.80" height="19.17" fill="#f2ca63"/>
<rect x="81.50" y="273.85" width="2.80" height="19.17" fill="#a9f07b"/>
<rect x="84.00" y="273.85" width="5.30" height="19.17" fill="#fbbe5d"/>
<rect x="89.00" y="273.85" width="2.80" height="19.17" fill="#a9f07b"/>
<rect x="91.50" y="273.85" width="2.20" height="19.17" fill="#f2ca63"/>
<rect x="93.40" y="273.85" width="2.90" height="19.17" fill="#d4e16f"/>
<rect x="96.00" y="273.85" width="13.30" height="19.17" fill="#fdb558"/>
<rect x="109.00" y="273.85" width="5.30" height="19.17" fill="#ffa14e"/>
<rect x="114.00" y="273.85" width="2.30" height="19.17" fill="#f2ca63"/>
<rect x="116.00" y="273.85" width="4.70" height="19.17" fill="#8cf580"/>
<rect x="120.40" y="273.85" width="2.10" height="19.17" fill="#f2ca63"/>
<rect x="122.20" y="273.85" width="2.90" height="19.17" fill="#e2da6b"/>
<rect x="124.80" y="273.85" width="14.70" height="19.17" fill="#fdb558"/>
<rect x="139.20" y="273.85" width="2.10" height="19.17" fill="#e2da6b"/>
<rect x="141.00" y="273.85" width="11.00" height="19.17" fill="#fdb558"/>
<rect x="151.70" y="273.85" width="3.50" height="19.17" fill="#a9f07b"/>
<rect x="154.90" y="273.85" width="3.40" height="19.17" fill="#fbbe5d"/>
<rect x="158.00" y="273.85" width="4.70" height="19.17" fill="#e2da6b"/>
<rect x="162.40" y="273.85" width="2.90" height="19.17" fill="#b2ef79"/>
<rect x="165.00" y="273.85" width="8.30" height="19.17" fill="#fbbe5d"/>
<rect x="173.00" y="273.85" width="3.50" height="19.17" fill="#e2da6b"/>
<rect x="176.20" y="273.85" width="4.70" height="19.17" fill="#fbbe5d"/>
<rect x="180.60" y="273.85" width="2.70" height="19.17" fill="#ecd267"/>
<rect x="183.00" y="273.85" width="6.70" height="19.17" fill="#fbbe5d"/>
<rect x="189.40" y="273.85" width="3.40" height="19.17" fill="#e2da6b"/>
<rect x="192.50" y="273.85" width="3.40" height="19.17" fill="#ffa14e"/>
<rect x="195.60" y="273.85" width="5.30" height="19.17" fill="#fbbe5d"/>
<rect x="200.60" y="273.85" width="3.50" height="19.17" fill="#feab53"/>
<rect x="203.80" y="273.85" width="2.20" height="19.17" fill="#efce65"/>
<rect x="205.70" y="273.85" width="4.60" height="19.17" fill="#9ff27d"/>
<rect x="210.00" y="273.85" width="4.80" height="19.17" fill="#feab53"/>
<rect x="214.50" y="273.85" width="2.10" height="19.17" fill="#d8df6e"/>
<rect x="216.30" y="273.85" width="2.60" height="19.17" fill="#a9f07b"/>
<rect x="218.60" y="273.85" width="2.50" height="19.17" fill="#fdb759"/>
<rect x="220.80" y="273.85" width="2.10" height="19.17" fill="#e5d86a"/>
<rect x="222.60" y="273.85" width="3.00" height="19.17" fill="#feb257"/>
<rect x="225.30" y="273.85" width="2.10" height="19.17" fill="#a9f07b"/>
<rect x="227.10" y="273.85" width="7.40" height="19.17" fill="#fdb759"/>
<rect x="17.00" y="292.02" width="4.30" height="18.17" fill="#6828ff"/>
<rect x="21.00" y="292.02" width="2.30" height="18.17" fill="#1a96f3"/>
<rect x="23.00" y="292.02" width="4.80" height="18.17" fill="#0ae1d7"/>
<rect x="27.50" y="292.02" width="4.10" height="18.17" fill="#0df5af"/>
<rect x="31.30" y="292.02" width="4.60" height="18.17" fill="#d4e16f"/>
<rect x="35.60" y="292.02" width="3.50" height="18.17" fill="#efce65"/>
<rect x="38.80" y="292.02" width="2.10" height="18.17" fill="#95f47f"/>
<rect x="40.60" y="292.02" width="7.30" height="18.17" fill="#f2ca63"/>
<rect x="47.60" y="292.02" width="5.30" height="18.17" fill="#a9f07b"/>
<rect x="52.60" y="292.02" width="5.30" height="18.17" fill="#e2da6b"/>
<rect x="57.60" y="292.02" width="2.70" height="18.17" fill="#fea650"/>
<rect x="60.00" y="292.02" width="5.30" height="18.17" fill="#f2ca63"/>
<rect x="65.00" y="292.02" width="5.30" height="18.17" fill="#feab53"/>
<rect x="70.00" y="292.02" width="3.60" height="18.17" fill="#f2ca63"/>
<rect x="73.30" y="292.02" width="4.00" height="18.17" fill="#ff9c4b"/>
<rect x="77.00" y="292.02" width="12.30" height="18.17" fill="#fbbe5d"/>
<rect x="89.00" y="292.02" width="2.30" height="18.17" fill="#f2ca63"/>
<rect x="91.00" y="292.02" width="2.70" height="18.17" fill="#ff9c4b"/>
<rect x="93.40" y="292.02" width="2.20" height="18.17" fill="#e2da6b"/>
<rect x="95.30" y="292.02" width="3.40" height="18.17" fill="#feab53"/>
<rect x="98.40" y="292.02" width="2.20" height="18.17" fill="#d4e16f"/>
<rect x="100.30" y="292.02" width="6.60" height="18.17" fill="#feab53"/>
<rect x="106.60" y="292.02" width="2.20" height="18.17" fill="#e2da6b"/>
<rect x="108.50" y="292.02" width="4.00" height="18.17" fill="#feab53"/>
<rect x="112.20" y="292.02" width="2.10" height="18.17" fill="#efce65"/>
<rect x="114.00" y="292.02" width="5.30" height="18.17" fill="#feab53"/>
<rect x="119.00" y="292.02" width="3.50" height="18.17" fill="#e2da6b"/>
<rect x="122.20" y="292.02" width="3.50" height="18.17" fill="#a9f07b"/>
<rect x="125.40" y="292.02" width="6.50" height="18.17" fill="#fbbe5d"/>
<rect x="131.60" y="292.02" width="7.90" height="18.17" fill="#ffa14e"/>
<rect x="139.20" y="292.02" width="2.80" height="18.17" fill="#e2da6b"/>
<rect x="141.70" y="292.02" width="2.80" height="18.17" fill="#feaf56"/>
<rect x="144.20" y="292.02" width="4.10" height="18.17" fill="#e2da6b"/>
<rect x="148.00" y="292.02" width="10.30" height="18.17" fill="#feaf56"/>
<rect x="158.00" y="292.02" width="2.80" height="18.17" fill="#95f47f"/>
<rect x="160.50" y="292.02" width="5.30" height="18.17" fill="#feab53"/>
<rect x="165.50" y="292.02" width="5.30" height="18.17" fill="#f5c661"/>
<rect x="170.50" y="292.02" width="4.10" height="18.17" fill="#feab53"/>
<rect x="174.30" y="292.02" width="2.80" height="18.17" fill="#ff9c4b"/>
<rect x="176.80" y="292.02" width="10.50" height="18.17" fill="#fbbe5d"/>
<rect x="187.00" y="292.02" width="5.30" height="18.17" fill="#ff9c4b"/>
<rect x="192.00" y="292.02" width="7.70" height="18.17" fill="#fdb558"/>
<rect x="199.40" y="292.02" width="4.70" height="18.17" fill="#d4e16f"/>
<rect x="203.80" y="292.02" width="7.20" height="18.17" fill="#fdb558"/>
<rect x="210.70" y="292.02" width="2.80" height="18.17" fill="#ecd267"/>
<rect x="213.20" y="292.02" width="1.60" height="18.17" fill="#fdb759"/>
<rect x="214.50" y="292.02" width="3.00" height="18.17" fill="#e5d86a"/>
<rect x="217.20" y="292.02" width="4.80" height="18.17" fill="#feb257"/>
<rect x="221.70" y="292.02" width="2.60" height="18.17" fill="#b2ef79"/>
<rect x="224.00" y="292.02" width="3.30" height="18.17" fill="#feb257"/>
<rect x="227.00" y="292.02" width="2.30" height="18.17" fill="#edd166"/>
<rect x="229.00" y="292.02" width="5.50" height="18.17" fill="#fdb759"/>
</g></g>
<text class="r" x="10.7" y="249.8" text-anchor="middle">C</text>
<text class="r" x="10.7" y="268.0" text-anchor="middle">E</text>
<text class="r" x="10.7" y="286.1" text-anchor="middle">R</text>
<text class="r" x="10.7" y="304.3" text-anchor="middle">T</text>
<text class="k" x="20.0" y="323.9" text-anchor="middle">101.0</text>
<text class="k" x="72.8" y="323.9" text-anchor="middle">300.75</text>
<text class="k" x="125.6" y="323.9" text-anchor="middle">500.5</text>
<text class="k" x="178.4" y="323.9" text-anchor="middle">700.25</text>
<text class="k" x="231.2" y="323.9" text-anchor="middle">900.0</text>
<rect x="244.6" y="237.5" width="3.60" height="72.69999999999999" fill="url(#rb)"/>
<line x1="248.2" x2="251.5" y1="248.1" y2="248.1" stroke="#1a1a1a" stroke-width="1"/>
<text class="c" x="254.4" y="251.0">0.98</text>
<line x1="248.2" x2="251.5" y1="260.5" y2="260.5" stroke="#1a1a1a" stroke-width="1"/>
<text class="c" x="254.4" y="263.4">0.96</text>
<line x1="248.2" x2="251.5" y1="272.9" y2="272.9" stroke="#1a1a1a" stroke-width="1"/>
<text class="c" x="254.4" y="275.8">0.94</text>
<line x1="248.2" x2="251.5" y1="285.2" y2="285.2" stroke="#1a1a1a" stroke-width="1"/>
<text class="c" x="254.4" y="288.1">0.92</text>
<line x1="248.2" x2="251.5" y1="297.6" y2="297.6" stroke="#1a1a1a" stroke-width="1"/>
<text class="c" x="254.4" y="300.5">0.90</text>
<line x1="248.2" x2="251.5" y1="310" y2="310" stroke="#1a1a1a" stroke-width="1"/>
<text class="c" x="254.4" y="312.9">0.88</text>
</g>
<g id="P6">
<text class="t" x="124.8" y="336.1" text-anchor="middle">LRA-8</text>
<g clip-path="url(#cP6)"><g filter="url(#bl)">
<rect x="16.70" y="339.00" width="4.60" height="19.30" fill="#0ff8a5"/>
<rect x="21.00" y="339.00" width="4.60" height="19.30" fill="#e8d769"/>
<rect x="25.30" y="339.00" width="2.20" height="19.30" fill="#78f884"/>
<rect x="27.20" y="339.00" width="2.80" height="19.30" fill="#0ae1d7"/>
<rect x="29.70" y="339.00" width="2.80" height="19.30" fill="#1a96f3"/>
<rect x="32.20" y="339.00" width="4.80" height="19.30" fill="#0ff8a5"/>
<rect x="36.70" y="339.00" width="2.10" height="19.30" fill="#78f884"/>
<rect x="38.50" y="339.00" width="4.00" height="19.30" fill="#feaf55"/>
<rect x="42.20" y="339.00" width="2.20" height="19.30" fill="#0ff8a5"/>
<rect x="44.10" y="339.00" width="2.90" height="19.30" fill="#04b4ee"/>
<rect x="46.70" y="339.00" width="2.10" height="19.30" fill="#0ff8a5"/>
<rect x="48.50" y="339.00" width="2.50" height="19.30" fill="#b9ee78"/>
<rect x="50.70" y="339.00" width="3.10" height="19.30" fill="#ff9b4b"/>
<rect x="53.50" y="339.00" width="9.50" height="19.30" fill="#0aeac8"/>
<rect x="62.70" y="339.00" width="5.30" height="19.30" fill="#fdbc5c"/>
<rect x="67.70" y="339.00" width="4.30" height="19.30" fill="#08c3ec"/>
<rect x="71.70" y="339.00" width="2.10" height="19.30" fill="#0ff8a5"/>
<rect x="73.50" y="339.00" width="2.80" height="19.30" fill="#e8d769"/>
<rect x="76.00" y="339.00" width="4.00" height="19.30" fill="#0ff8a5"/>
<rect x="79.70" y="339.00" width="2.80" height="19.30" fill="#0ae1d7"/>
<rect x="82.20" y="339.00" width="4.80" height="19.30" fill="#24fa96"/>
<rect x="86.70" y="339.00" width="2.30" height="19.30" fill="#ff5f28"/>
<rect x="88.70" y="339.00" width="1.80" height="19.30" fill="#ff893f"/>
<rect x="90.20" y="339.00" width="2.60" height="19.30" fill="#0ff8a5"/>
<rect x="92.50" y="339.00" width="4.00" height="19.30" fill="#0ae1d7"/>
<rect x="96.20" y="339.00" width="2.80" height="19.30" fill="#0ff8a5"/>
<rect x="98.70" y="339.00" width="2.80" height="19.30" fill="#feaf55"/>
<rect x="101.20" y="339.00" width="3.40" height="19.30" fill="#0ff8a5"/>
<rect x="104.30" y="339.00" width="2.70" height="19.30" fill="#b9ee78"/>
<rect x="106.70" y="339.00" width="4.80" height="19.30" fill="#0aeac8"/>
<rect x="111.20" y="339.00" width="4.60" height="19.30" fill="#b9ee78"/>
<rect x="115.50" y="339.00" width="3.50" height="19.30" fill="#0ff8a5"/>
<rect x="118.70" y="339.00" width="1.60" height="19.30" fill="#78f884"/>
<rect x="120.00" y="339.00" width="2.30" height="19.30" fill="#0ff8a5"/>
<rect x="122.00" y="339.00" width="2.00" height="19.30" fill="#fdbc5c"/>
<rect x="123.70" y="339.00" width="2.90" height="19.30" fill="#08c3ec"/>
<rect x="126.30" y="339.00" width="2.70" height="19.30" fill="#feaf55"/>
<rect x="128.70" y="339.00" width="2.90" height="19.30" fill="#0ff8a5"/>
<rect x="131.30" y="339.00" width="2.70" height="19.30" fill="#0ae1d7"/>
<rect x="133.70" y="339.00" width="2.30" height="19.30" fill="#0ff8a5"/>
<rect x="135.70" y="339.00" width="2.00" height="19.30" fill="#78f884"/>
<rect x="137.40" y="339.00" width="2.80" height="19.30" fill="#fdbc5c"/>
<rect x="139.90" y="339.00" width="4.30" height="19.30" fill="#0ff8a5"/>
<rect x="143.90" y="339.00" width="2.10" height="19.30" fill="#b9ee78"/>
<rect x="145.70" y="339.00" width="6.00" height="19.30" fill="#0aeac8"/>
<rect x="151.40" y="339.00" width="2.20" height="19.30" fill="#fdbc5c"/>
<rect x="153.30" y="339.00" width="10.30" height="19.30" fill="#0ff8a5"/>
<rect x="163.30" y="339.00" width="2.20" height="19.30" fill="#78f884"/>
<rect x="165.20" y="339.00" width="2.20" height="19.30" fill="#d5e06f"/>
<rect x="167.10" y="339.00" width="2.40" height="19.30" fill="#ff6b2e"/>
<rect x="169.20" y="339.00" width="7.00" height="19.30" fill="#0ff8a5"/>
<rect x="175.90" y="339.00" width="2.10" height="19.30" fill="#78f884"/>
<rect x="177.70" y="339.00" width="2.60" height="19.30" fill="#0ff8a5"/>
<rect x="180.00" y="339.00" width="2.40" height="19.30" fill="#fdbc5c"/>
<rect x="182.10" y="339.00" width="2.90" height="19.30" fill="#0ae1d7"/>
<rect x="184.70" y="339.00" width="4.70" height="19.30" fill="#0ff8a5"/>
<rect x="189.10" y="339.00" width="1.90" height="19.30" fill="#b9ee78"/>
<rect x="190.70" y="339.00" width="3.00" height="19.30" fill="#0ff8a5"/>
<rect x="193.40" y="339.00" width="6.60" height="19.30" fill="#e8d769"/>
<rect x="199.70" y="339.00" width="8.50" height="19.30" fill="#0ff8a5"/>
<rect x="207.90" y="339.00" width="3.40" height="19.30" fill="#08c3ec"/>
<rect x="211.00" y="339.00" width="4.40" height="19.30" fill="#f5c761"/>
<rect x="215.10" y="339.00" width="4.90" height="19.30" fill="#0ff8a5"/>
<rect x="219.70" y="339.00" width="2.60" height="19.30" fill="#b9ee78"/>
<rect x="222.00" y="339.00" width="2.40" height="19.30" fill="#0ff8a5"/>
<rect x="224.10" y="339.00" width="2.10" height="19.30" fill="#78f884"/>
<rect x="225.90" y="339.00" width="2.60" height="19.30" fill="#0ff8a5"/>
<rect x="228.20" y="339.00" width="5.10" height="19.30" fill="#fdbc5c"/>
<rect x="16.70" y="357.30" width="5.80" height="19.30" fill="#0aeac8"/>
<rect x="22.20" y="357.30" width="3.80" height="19.30" fill="#e8d769"/>
<rect x="25.70" y="357.30" width="2.30" height="19.30" fill="#ff5f28"/>
<rect x="27.70" y="357.30" width="2.90" height="19.30" fill="#78f884"/>
<rect x="30.30" y="357.30" width="2.70" height="19.30" fill="#fdbc5c"/>
<rect x="32.70" y="357.30" width="3.60" height="19.30" fill="#4e4ffc"/>
<rect x="36.00" y="357.30" width="7.00" height="19.30" fill="#0df5af"/>
<rect x="42.70" y="357.30" width="2.90" height="19.30" fill="#ff893f"/>
<rect x="45.30" y="357.30" width="2.20" height="19.30" fill="#b9ee78"/>
<rect x="47.20" y="357.30" width="2.60" height="19.30" fill="#ff5f28"/>
<rect x="49.50" y="357.30" width="1.80" height="19.30" fill="#e8d769"/>
<rect x="51.00" y="357.30" width="4.60" height="19.30" fill="#3474f8"/>
<rect x="55.30" y="357.30" width="4.10" height="19.30" fill="#e8d769"/>
<rect x="59.10" y="357.30" width="2.40" height="19.30" fill="#ff6b2e"/>
<rect x="61.20" y="357.30" width="1.80" height="19.30" fill="#0ff8a5"/>
<rect x="62.70" y="357.30" width="5.30" height="19.30" fill="#0ae1d7"/>
<rect x="67.70" y="357.30" width="3.60" height="19.30" fill="#ff893f"/>
<rect x="71.00" y="357.30" width="8.40" height="19.30" fill="#0aeac8"/>
<rect x="79.10" y="357.30" width="7.20" height="19.30" fill="#b9ee78"/>
<rect x="86.00" y="357.30" width="3.00" height="19.30" fill="#0ff8a5"/>
<rect x="88.70" y="357.30" width="2.80" height="19.30" fill="#0acdeb"/>
<rect x="91.20" y="357.30" width="4.10" height="19.30" fill="#0ff8a5"/>
<rect x="95.00" y="357.30" width="2.00" height="19.30" fill="#e8d769"/>
<rect x="96.70" y="357.30" width="2.30" height="19.30" fill="#0ff8a5"/>
<rect x="98.70" y="357.30" width="2.30" height="19.30" fill="#78f884"/>
<rect x="100.70" y="357.30" width="7.10" height="19.30" fill="#0df5af"/>
<rect x="107.50" y="357.30" width="3.10" height="19.30" fill="#ff5f28"/>
<rect x="110.30" y="357.30" width="6.30" height="19.30" fill="#0ff8a5"/>
<rect x="116.30" y="357.30" width="3.40" height="19.30" fill="#1a96f3"/>
<rect x="119.40" y="357.30" width="1.60" height="19.30" fill="#0ff8a5"/>
<rect x="120.70" y="357.30" width="3.10" height="19.30" fill="#fdbc5c"/>
<rect x="123.50" y="357.30" width="2.90" height="19.30" fill="#ff5f28"/>
<rect x="126.10" y="357.30" width="4.30" height="19.30" fill="#0ff8a5"/>
<rect x="130.10" y="357.30" width="2.20" height="19.30" fill="#78f884"/>
<rect x="132.00" y="357.30" width="6.50" height="19.30" fill="#0ff8a5"/>
<rect x="138.20" y="357.30" width="4.80" height="19.30" fill="#0ae1d7"/>
<rect x="142.70" y="357.30" width="2.10" height="19.30" fill="#0ff8a5"/>
<rect x="144.50" y="357.30" width="4.10" height="19.30" fill="#feaf55"/>
<rect x="148.30" y="357.30" width="3.40" height="19.30" fill="#b9ee78"/>
<rect x="151.40" y="357.30" width="1.60" height="19.30" fill="#0ff8a5"/>
<rect x="152.70" y="357.30" width="4.10" height="19.30" fill="#1a96f3"/>
<rect x="156.50" y="357.30" width="1.50" height="19.30" fill="#0ff8a5"/>
<rect x="157.70" y="357.30" width="2.80" height="19.30" fill="#fdbc5c"/>
<rect x="160.20" y="357.30" width="3.40" height="19.30" fill="#78f884"/>
<rect x="163.30" y="357.30" width="2.20" height="19.30" fill="#0ff8a5"/>
<rect x="165.20" y="357.30" width="4.80" height="19.30" fill="#b9ee78"/>
<rect x="169.70" y="357.30" width="4.00" height="19.30" fill="#08c3ec"/>
<rect x="173.40" y="357.30" width="2.80" height="19.30" fill="#0ff8a5"/>
<rect x="175.90" y="357.30" width="2.80" height="19.30" fill="#e8d769"/>
<rect x="178.40" y="357.30" width="2.80" height="19.30" fill="#0ff8a5"/>
<rect x="180.90" y="357.30" width="2.10" height="19.30" fill="#78f884"/>
<rect x="182.70" y="357.30" width="6.70" height="19.30" fill="#0ff8a5"/>
<rect x="189.10" y="357.30" width="1.30" height="19.30" fill="#e8d769"/>
<rect x="190.10" y="357.30" width="2.40" height="19.30" fill="#ff5f28"/>
<rect x="192.20" y="357.30" width="4.80" height="19.30" fill="#0ad9df"/>
<rect x="196.70" y="357.30" width="1.50" height="19.30" fill="#0ff8a5"/>
<rect x="197.90" y="357.30" width="2.10" height="19.30" fill="#fdbc5c"/>
<rect x="199.70" y="357.30" width="1.60" height="19.30" fill="#0ff8a5"/>
<rect x="201.00" y="357.30" width="3.70" height="19.30" fill="#1a96f3"/>
<rect x="204.40" y="357.30" width="1.90" height="19.30" fill="#0ff8a5"/>
<rect x="206.00" y="357.30" width="3.40" height="19.30" fill="#b9ee78"/>
<rect x="209.10" y="357.30" width="3.10" height="19.30" fill="#ff2f16"/>
<rect x="211.90" y="357.30" width="2.60" height="19.30" fill="#78f884"/>
<rect x="214.20" y="357.30" width="2.60" height="19.30" fill="#0ff8a5"/>
<rect x="216.50" y="357.30" width="2.90" height="19.30" fill="#11a2f1"/>
<rect x="219.10" y="357.30" width="8.90" height="19.30" fill="#0ff8a5"/>
<rect x="227.70" y="357.30" width="5.60" height="19.30" fill="#fdbc5c"/>
<rect x="16.70" y="375.60" width="4.30" height="19.30" fill="#0ff8a5"/>
<rect x="20.70" y="375.60" width="3.10" height="19.30" fill="#e8d769"/>
<rect x="23.50" y="375.60" width="2.10" height="19.30" fill="#78f884"/>
<rect x="25.30" y="375.60" width="4.10" height="19.30" fill="#cce572"/>
<rect x="29.10" y="375.60" width="2.20" height="19.30" fill="#0ff8a5"/>
<rect x="31.00" y="375.60" width="3.00" height="19.30" fill="#7218ff"/>
<rect x="33.70" y="375.60" width="4.30" height="19.30" fill="#0ff8a5"/>
<rect x="37.70" y="375.60" width="5.30" height="19.30" fill="#9ff27d"/>
<rect x="42.70" y="375.60" width="4.30" height="19.30" fill="#0ff8a5"/>
<rect x="46.70" y="375.60" width="3.10" height="19.30" fill="#e8d769"/>
<rect x="49.50" y="375.60" width="8.00" height="19.30" fill="#0ff8a5"/>
<rect x="57.20" y="375.60" width="2.80" height="19.30" fill="#04b4ee"/>
<rect x="59.70" y="375.60" width="4.10" height="19.30" fill="#0ff8a5"/>
<rect x="63.50" y="375.60" width="2.50" height="19.30" fill="#ff6b2e"/>
<rect x="65.70" y="375.60" width="7.30" height="19.30" fill="#5cfa87"/>
<rect x="72.70" y="375.60" width="2.90" height="19.30" fill="#b9ee78"/>
<rect x="75.30" y="375.60" width="2.70" height="19.30" fill="#0ff8a5"/>
<rect x="77.70" y="375.60" width="3.60" height="19.30" fill="#08c3ec"/>
<rect x="81.00" y="375.60" width="4.00" height="19.30" fill="#b9ee78"/>
<rect x="84.70" y="375.60" width="2.80" height="19.30" fill="#ff2312"/>
<rect x="87.20" y="375.60" width="1.80" height="19.30" fill="#e8d769"/>
<rect x="88.70" y="375.60" width="2.80" height="19.30" fill="#0ff8a5"/>
<rect x="91.20" y="375.60" width="2.80" height="19.30" fill="#08c3ec"/>
<rect x="93.70" y="375.60" width="3.30" height="19.30" fill="#0ff8a5"/>
<rect x="96.70" y="375.60" width="3.80" height="19.30" fill="#ff2f16"/>
<rect x="100.20" y="375.60" width="1.80" height="19.30" fill="#e8d769"/>
<rect x="101.70" y="375.60" width="2.30" height="19.30" fill="#0ff8a5"/>
<rect x="103.70" y="375.60" width="2.80" height="19.30" fill="#11a2f1"/>
<rect x="106.20" y="375.60" width="7.20" height="19.30" fill="#0ae1d7"/>
<rect x="113.10" y="375.60" width="2.90" height="19.30" fill="#ff6b2e"/>
<rect x="115.70" y="375.60" width="2.30" height="19.30" fill="#0ff8a5"/>
<rect x="117.70" y="375.60" width="2.60" height="19.30" fill="#ff893f"/>
<rect x="120.00" y="375.60" width="1.80" height="19.30" fill="#78f884"/>
<rect x="121.50" y="375.60" width="8.90" height="19.30" fill="#0ad9df"/>
<rect x="130.10" y="375.60" width="2.70" height="19.30" fill="#24fa96"/>
<rect x="132.50" y="375.60" width="2.20" height="19.30" fill="#b9ee78"/>
<rect x="134.40" y="375.60" width="3.40" height="19.30" fill="#ff7131"/>
<rect x="137.50" y="375.60" width="2.90" height="19.30" fill="#0ff8a5"/>
<rect x="140.10" y="375.60" width="5.40" height="19.30" fill="#0ae1d7"/>
<rect x="145.20" y="375.60" width="9.00" height="19.30" fill="#0ff8a5"/>
<rect x="153.90" y="375.60" width="4.10" height="19.30" fill="#78f884"/>
<rect x="157.70" y="375.60" width="1.60" height="19.30" fill="#0ff8a5"/>
<rect x="159.00" y="375.60" width="2.00" height="19.30" fill="#fdbc5c"/>
<rect x="160.70" y="375.60" width="2.90" height="19.30" fill="#78f884"/>
<rect x="163.30" y="375.60" width="2.20" height="19.30" fill="#0ff8a5"/>
<rect x="165.20" y="375.60" width="4.80" height="19.30" fill="#0ae1d7"/>
<rect x="169.70" y="375.60" width="4.60" height="19.30" fill="#0ff8a5"/>
<rect x="174.00" y="375.60" width="2.50" height="19.30" fill="#08c3ec"/>
<rect x="176.20" y="375.60" width="2.10" height="19.30" fill="#0ff8a5"/>
<rect x="178.00" y="375.60" width="2.60" height="19.30" fill="#ff893f"/>
<rect x="180.30" y="375.60" width="4.70" height="19.30" fill="#0ff8a5"/>
<rect x="184.70" y="375.60" width="2.30" height="19.30" fill="#b9ee78"/>
<rect x="186.70" y="375.60" width="2.70" height="19.30" fill="#0ff8a5"/>
<rect x="189.10" y="375.60" width="2.90" height="19.30" fill="#08c3ec"/>
<rect x="191.70" y="375.60" width="2.70" height="19.30" fill="#0ff8a5"/>
<rect x="194.10" y="375.60" width="8.40" height="19.30" fill="#9ff27d"/>
<rect x="202.20" y="375.60" width="6.00" height="19.30" fill="#0ff8a5"/>
<rect x="207.90" y="375.60" width="3.40" height="19.30" fill="#78f884"/>
<rect x="211.00" y="375.60" width="4.40" height="19.30" fill="#0ff8a5"/>
<rect x="215.10" y="375.60" width="2.90" height="19.30" fill="#b9ee78"/>
<rect x="217.70" y="375.60" width="2.30" height="19.30" fill="#0ff8a5"/>
<rect x="219.70" y="375.60" width="2.90" height="19.30" fill="#feaf55"/>
<rect x="222.30" y="375.60" width="5.70" height="19.30" fill="#0ff8a5"/>
<rect x="227.70" y="375.60" width="5.60" height="19.30" fill="#e8d769"/>
<rect x="16.70" y="393.90" width="4.60" height="18.30" fill="#0ff8a5"/>
<rect x="21.00" y="393.90" width="2.80" height="18.30" fill="#feaf55"/>
<rect x="23.50" y="393.90" width="2.10" height="18.30" fill="#0ff8a5"/>
<rect x="25.30" y="393.90" width="2.20" height="18.30" fill="#08c3ec"/>
<rect x="27.20" y="393.90" width="1.60" height="18.30" fill="#0ff8a5"/>
<rect x="28.50" y="393.90" width="2.10" height="18.30" fill="#08c3ec"/>
<rect x="30.30" y="393.90" width="1.70" height="18.30" fill="#0ff8a5"/>
<rect x="31.70" y="393.90" width="3.00" height="18.30" fill="#e8d769"/>
<rect x="34.40" y="393.90" width="1.90" height="18.30" fill="#0ff8a5"/>
<rect x="36.00" y="393.90" width="3.40" height="18.30" fill="#08c3ec"/>
<rect x="39.10" y="393.90" width="1.50" height="18.30" fill="#78f884"/>
<rect x="40.30" y="393.90" width="3.20" height="18.30" fill="#ff9547"/>
<rect x="43.20" y="393.90" width="1.80" height="18.30" fill="#0ff8a5"/>
<rect x="44.70" y="393.90" width="2.30" height="18.30" fill="#32fc8c"/>
<rect x="46.70" y="393.90" width="13.30" height="18.30" fill="#0ff8a5"/>
<rect x="59.70" y="393.90" width="3.30" height="18.30" fill="#e8d769"/>
<rect x="62.70" y="393.90" width="2.90" height="18.30" fill="#78f884"/>
<rect x="65.30" y="393.90" width="2.70" height="18.30" fill="#0ae1d7"/>
<rect x="67.70" y="393.90" width="3.60" height="18.30" fill="#78f884"/>
<rect x="71.00" y="393.90" width="5.30" height="18.30" fill="#0ff8a5"/>
<rect x="76.00" y="393.90" width="2.80" height="18.30" fill="#b9ee78"/>
<rect x="78.50" y="393.90" width="6.50" height="18.30" fill="#0ff8a5"/>
<rect x="84.70" y="393.90" width="2.80" height="18.30" fill="#0ae1d7"/>
<rect x="87.20" y="393.90" width="1.80" height="18.30" fill="#0ff8a5"/>
<rect x="88.70" y="393.90" width="3.30" height="18.30" fill="#e8d769"/>
<rect x="91.70" y="393.90" width="2.30" height="18.30" fill="#0ff8a5"/>
<rect x="93.70" y="393.90" width="2.30" height="18.30" fill="#b9ee78"/>
<rect x="95.70" y="393.90" width="4.60" height="18.30" fill="#0af0be"/>
<rect x="100.00" y="393.90" width="5.30" height="18.30" fill="#9ff27d"/>
<rect x="105.00" y="393.90" width="6.60" height="18.30" fill="#0ff8a5"/>
<rect x="111.30" y="393.90" width="2.50" height="18.30" fill="#ff7d37"/>
<rect x="113.50" y="393.90" width="1.80" height="18.30" fill="#e8d769"/>
<rect x="115.00" y="393.90" width="9.80" height="18.30" fill="#0aeac8"/>
<rect x="124.50" y="393.90" width="2.80" height="18.30" fill="#fea852"/>
<rect x="127.00" y="393.90" width="2.20" height="18.30" fill="#0ff8a5"/>
<rect x="128.90" y="393.90" width="2.80" height="18.30" fill="#f5c761"/>
<rect x="131.40" y="393.90" width="3.40" height="18.30" fill="#0ff8a5"/>
<rect x="134.50" y="393.90" width="3.50" height="18.30" fill="#1a96f3"/>
<rect x="137.70" y="393.90" width="2.70" height="18.30" fill="#0ff8a5"/>
<rect x="140.10" y="393.90" width="2.60" height="18.30" fill="#ff893f"/>
<rect x="142.40" y="393.90" width="3.60" height="18.30" fill="#0ff8a5"/>
<rect x="145.70" y="393.90" width="2.30" height="18.30" fill="#78f884"/>
<rect x="147.70" y="393.90" width="2.80" height="18.30" fill="#0ff8a5"/>
<rect x="150.20" y="393.90" width="3.40" height="18.30" fill="#b9ee78"/>
<rect x="153.30" y="393.90" width="4.70" height="18.30" fill="#0ff8a5"/>
<rect x="157.70" y="393.90" width="1.80" height="18.30" fill="#78f884"/>
<rect x="159.20" y="393.90" width="2.60" height="18.30" fill="#ff6b2e"/>
<rect x="161.50" y="393.90" width="3.50" height="18.30" fill="#0ff8a5"/>
<rect x="164.70" y="393.90" width="3.30" height="18.30" fill="#2488f5"/>
<rect x="167.70" y="393.90" width="2.80" height="18.30" fill="#0ff8a5"/>
<rect x="170.20" y="393.90" width="2.20" height="18.30" fill="#fdbc5c"/>
<rect x="172.10" y="393.90" width="2.20" height="18.30" fill="#78f884"/>
<rect x="174.00" y="393.90" width="2.50" height="18.30" fill="#e8d769"/>
<rect x="176.20" y="393.90" width="4.40" height="18.30" fill="#0ff8a5"/>
<rect x="180.30" y="393.90" width="3.40" height="18.30" fill="#2488f5"/>
<rect x="183.40" y="393.90" width="8.60" height="18.30" fill="#0ff8a5"/>
<rect x="191.70" y="393.90" width="2.70" height="18.30" fill="#b9ee78"/>
<rect x="194.10" y="393.90" width="3.40" height="18.30" fill="#feaf55"/>
<rect x="197.20" y="393.90" width="2.80" height="18.30" fill="#78f884"/>
<rect x="199.70" y="393.90" width="5.30" height="18.30" fill="#0ff8a5"/>
<rect x="204.70" y="393.90" width="3.50" height="18.30" fill="#2488f5"/>
<rect x="207.90" y="393.90" width="1.80" height="18.30" fill="#0ff8a5"/>
<rect x="209.40" y="393.90" width="2.30" height="18.30" fill="#fdbc5c"/>
<rect x="211.40" y="393.90" width="0.60" height="18.30" fill="#0ff8a5"/>
<rect x="211.70" y="393.90" width="2.30" height="18.30" fill="#b9ee78"/>
<rect x="213.70" y="393.90" width="3.50" height="18.30" fill="#ff6b2e"/>
<rect x="216.90" y="393.90" width="2.10" height="18.30" fill="#78f884"/>
<rect x="218.70" y="393.90" width="4.80" height="18.30" fill="#1a96f3"/>
<rect x="223.20" y="393.90" width="3.80" height="18.30" fill="#0ff8a5"/>
<rect x="226.70" y="393.90" width="6.60" height="18.30" fill="#feaf55"/>
</g></g>
<text class="r" x="10.4" y="351.3" text-anchor="middle">C</text>
<text class="r" x="10.4" y="369.6" text-anchor="middle">E</text>
<text class="r" x="10.4" y="387.9" text-anchor="middle">R</text>
<text class="r" x="10.4" y="406.2" text-anchor="middle">T</text>
<text class="k" x="19.7" y="425.9" text-anchor="middle">101.0</text>
<text class="k" x="72.3" y="425.9" text-anchor="middle">300.75</text>
<text class="k" x="124.9" y="425.9" text-anchor="middle">500.5</text>
<text class="k" x="177.4" y="425.9" text-anchor="middle">700.25</text>
<text class="k" x="230.0" y="425.9" text-anchor="middle">900.0</text>
<text class="k" x="124.8" y="437.4" text-anchor="middle">Time(ms)</text>
<rect x="243.3" y="339" width="4.00" height="73.19999999999999" fill="url(#rb)"/>
<line x1="247.3" x2="250.6" y1="352" y2="352" stroke="#1a1a1a" stroke-width="1"/>
<text class="c" x="253.5" y="354.9">0.6175</text>
<line x1="247.3" x2="250.6" y1="365.4" y2="365.4" stroke="#1a1a1a" stroke-width="1"/>
<text class="c" x="253.5" y="368.3">0.6150</text>
<line x1="247.3" x2="250.6" y1="378.9" y2="378.9" stroke="#1a1a1a" stroke-width="1"/>
<text class="c" x="253.5" y="381.8">0.6125</text>
<line x1="247.3" x2="250.6" y1="392.4" y2="392.4" stroke="#1a1a1a" stroke-width="1"/>
<text class="c" x="253.5" y="395.3">0.6100</text>
<line x1="247.3" x2="250.6" y1="405.9" y2="405.9" stroke="#1a1a1a" stroke-width="1"/>
<text class="c" x="253.5" y="408.8">0.6075</text>
</g>
</svg></body></html>
